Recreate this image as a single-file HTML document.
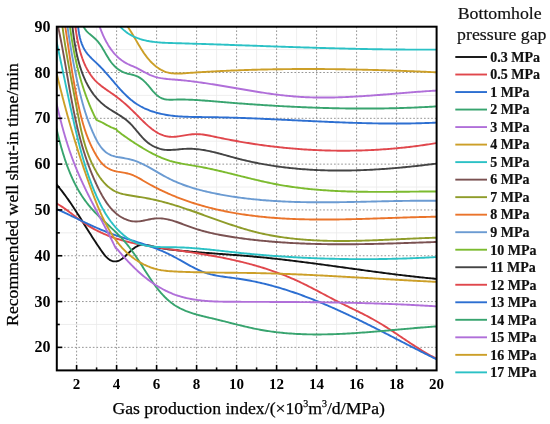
<!DOCTYPE html>
<html><head><meta charset="utf-8"><title>Recommended well shut-in time</title>
<style>html,body{margin:0;padding:0;background:#fff;}body{width:550px;height:424px;position:relative;overflow:hidden;}</style>
</head><body>
<svg width="550" height="424" viewBox="0 0 550 424" style="position:absolute;left:0;top:0">
<defs><clipPath id="pc"><rect x="56.8" y="26.7" width="379.8" height="343.7"/></clipPath></defs>
<g stroke="#eaeaea" stroke-width="0.8"><line x1="96.60" y1="26.7" x2="96.60" y2="370.4"/><line x1="136.60" y1="26.7" x2="136.60" y2="370.4"/><line x1="176.60" y1="26.7" x2="176.60" y2="370.4"/><line x1="216.60" y1="26.7" x2="216.60" y2="370.4"/><line x1="256.60" y1="26.7" x2="256.60" y2="370.4"/><line x1="296.60" y1="26.7" x2="296.60" y2="370.4"/><line x1="336.60" y1="26.7" x2="336.60" y2="370.4"/><line x1="376.60" y1="26.7" x2="376.60" y2="370.4"/><line x1="416.60" y1="26.7" x2="416.60" y2="370.4"/><line x1="56.8" y1="49.61" x2="436.6" y2="49.61"/><line x1="56.8" y1="95.42" x2="436.6" y2="95.42"/><line x1="56.8" y1="141.22" x2="436.6" y2="141.22"/><line x1="56.8" y1="187.03" x2="436.6" y2="187.03"/><line x1="56.8" y1="232.84" x2="436.6" y2="232.84"/><line x1="56.8" y1="278.66" x2="436.6" y2="278.66"/><line x1="56.8" y1="324.47" x2="436.6" y2="324.47"/></g>
<g stroke="#959595" stroke-width="1" stroke-dasharray="1.7 1.9"><line x1="76.60" y1="26.7" x2="76.60" y2="370.4"/><line x1="116.60" y1="26.7" x2="116.60" y2="370.4"/><line x1="156.60" y1="26.7" x2="156.60" y2="370.4"/><line x1="196.60" y1="26.7" x2="196.60" y2="370.4"/><line x1="236.60" y1="26.7" x2="236.60" y2="370.4"/><line x1="276.60" y1="26.7" x2="276.60" y2="370.4"/><line x1="316.60" y1="26.7" x2="316.60" y2="370.4"/><line x1="356.60" y1="26.7" x2="356.60" y2="370.4"/><line x1="396.60" y1="26.7" x2="396.60" y2="370.4"/><line x1="56.8" y1="72.51" x2="436.6" y2="72.51"/><line x1="56.8" y1="118.32" x2="436.6" y2="118.32"/><line x1="56.8" y1="164.13" x2="436.6" y2="164.13"/><line x1="56.8" y1="209.94" x2="436.6" y2="209.94"/><line x1="56.8" y1="255.75" x2="436.6" y2="255.75"/><line x1="56.8" y1="301.56" x2="436.6" y2="301.56"/><line x1="56.8" y1="347.37" x2="436.6" y2="347.37"/></g>
<g clip-path="url(#pc)" fill="none" stroke-width="1.9" stroke-linejoin="round" stroke-linecap="round"><path d="M55.76 183.51 L56.78 184.70 L57.77 185.90 L58.76 187.10 L59.73 188.30 L60.68 189.50 L61.62 190.70 L62.55 191.90 L63.47 193.11 L64.38 194.32 L65.27 195.53 L66.15 196.74 L67.03 197.95 L67.89 199.16 L68.75 200.38 L69.60 201.60 L70.44 202.82 L71.27 204.04 L72.09 205.26 L72.91 206.49 L73.72 207.72 L74.53 208.95 L75.33 210.18 L76.13 211.41 L76.93 212.65 L77.72 213.89 L78.51 215.13 L79.30 216.37 L80.08 217.62 L80.86 218.87 L81.65 220.12 L82.43 221.38 L83.21 222.63 L84.00 223.89 L84.78 225.16 L85.57 226.42 L86.36 227.69 L87.16 228.96 L87.95 230.23 L88.75 231.51 L89.56 232.79 L90.37 234.07 L91.19 235.36 L92.01 236.65 L92.84 237.94 L93.67 239.23 L94.52 240.53 L95.37 241.83 L96.23 243.14 L97.10 244.45 L97.98 245.76 L98.87 247.08 L99.77 248.40 L100.69 249.72 L101.61 251.04 L102.55 252.35 L103.50 253.63 L104.48 254.86 L105.47 256.04 L106.48 257.13 L107.51 258.13 L108.57 259.03 L109.65 259.80 L110.76 260.43 L111.90 260.90 L113.06 261.23 L114.24 261.40 L115.43 261.42 L116.62 261.29 L117.81 261.01 L119.00 260.58 L120.17 260.01 L121.33 259.31 L122.48 258.49 L123.63 257.58 L124.77 256.59 L125.91 255.54 L127.05 254.46 L128.20 253.35 L129.35 252.24 L130.51 251.14 L131.68 250.08 L132.87 249.07 L134.07 248.13 L135.29 247.28 L136.53 246.54 L137.80 245.92 L139.09 245.45 L140.41 245.12 L141.76 244.93 L143.13 244.86 L144.52 244.89 L145.93 245.01 L147.35 245.21 L148.79 245.47 L150.24 245.77 L151.71 246.11 L153.18 246.47 L154.65 246.84 L156.14 247.19 L157.62 247.52 L159.11 247.82 L160.60 248.11 L162.09 248.38 L163.58 248.63 L165.08 248.86 L166.57 249.07 L168.07 249.28 L169.56 249.47 L171.06 249.65 L172.56 249.82 L174.06 249.99 L175.56 250.15 L177.05 250.30 L178.55 250.46 L180.05 250.61 L181.55 250.75 L183.04 250.90 L184.54 251.04 L186.04 251.18 L187.54 251.32 L189.03 251.46 L190.53 251.59 L192.02 251.72 L193.52 251.85 L195.01 251.98 L196.51 252.10 L198.00 252.23 L199.50 252.35 L200.99 252.47 L202.49 252.59 L203.98 252.71 L205.48 252.83 L206.97 252.94 L208.46 253.06 L209.96 253.17 L211.45 253.28 L212.94 253.40 L214.44 253.51 L215.93 253.62 L217.42 253.73 L218.91 253.84 L220.41 253.95 L221.90 254.06 L223.39 254.18 L224.88 254.29 L226.37 254.40 L227.86 254.51 L229.35 254.62 L230.85 254.73 L232.34 254.85 L233.83 254.96 L235.32 255.07 L236.81 255.19 L238.30 255.30 L239.79 255.42 L241.28 255.54 L242.77 255.66 L244.26 255.78 L245.75 255.90 L247.24 256.03 L248.73 256.15 L250.22 256.28 L251.70 256.41 L253.19 256.54 L254.68 256.68 L256.17 256.81 L257.66 256.95 L259.15 257.09 L260.64 257.23 L262.12 257.38 L263.61 257.52 L265.10 257.67 L266.59 257.82 L268.08 257.97 L269.56 258.13 L271.05 258.28 L272.54 258.44 L274.03 258.60 L275.51 258.76 L277.00 258.93 L278.49 259.09 L279.98 259.26 L281.46 259.43 L282.95 259.60 L284.44 259.77 L285.92 259.95 L287.41 260.12 L288.90 260.30 L290.38 260.48 L291.87 260.65 L293.36 260.84 L294.84 261.02 L296.33 261.20 L297.82 261.38 L299.30 261.57 L300.79 261.76 L302.27 261.95 L303.76 262.13 L305.25 262.32 L306.73 262.52 L308.22 262.71 L309.70 262.90 L311.19 263.10 L312.67 263.29 L314.16 263.49 L315.65 263.68 L317.13 263.88 L318.62 264.08 L320.10 264.28 L321.59 264.48 L323.07 264.68 L324.56 264.88 L326.04 265.08 L327.53 265.28 L329.01 265.48 L330.50 265.68 L331.99 265.89 L333.47 266.09 L334.96 266.29 L336.44 266.50 L337.93 266.70 L339.41 266.91 L340.90 267.11 L342.38 267.31 L343.87 267.52 L345.35 267.72 L346.84 267.93 L348.32 268.13 L349.81 268.34 L351.29 268.54 L352.78 268.75 L354.26 268.95 L355.75 269.15 L357.23 269.36 L358.72 269.56 L360.20 269.77 L361.69 269.97 L363.17 270.17 L364.66 270.37 L366.15 270.57 L367.63 270.78 L369.12 270.98 L370.60 271.18 L372.09 271.37 L373.57 271.57 L375.06 271.77 L376.54 271.97 L378.03 272.17 L379.51 272.36 L381.00 272.56 L382.49 272.75 L383.97 272.94 L385.46 273.14 L386.94 273.33 L388.43 273.52 L389.91 273.71 L391.40 273.89 L392.89 274.08 L394.37 274.27 L395.86 274.45 L397.35 274.63 L398.83 274.82 L400.32 275.00 L401.80 275.18 L403.29 275.35 L404.78 275.53 L406.26 275.71 L407.75 275.88 L409.24 276.05 L410.72 276.22 L412.21 276.39 L413.70 276.56 L415.19 276.72 L416.67 276.89 L418.16 277.05 L419.65 277.21 L421.13 277.37 L422.62 277.52 L424.11 277.68 L425.60 277.83 L427.08 277.98 L428.57 278.13 L430.06 278.28 L431.55 278.42 L433.04 278.56 L434.53 278.70 L436.01 278.84 L437.50 278.98" stroke="#111111"/><path d="M56.25 203.29 L57.55 204.01 L58.84 204.76 L60.12 205.54 L61.38 206.34 L62.63 207.16 L63.87 208.00 L65.10 208.86 L66.32 209.73 L67.53 210.61 L68.74 211.51 L69.94 212.42 L71.13 213.33 L72.33 214.24 L73.52 215.16 L74.71 216.08 L75.90 216.99 L77.10 217.90 L78.29 218.81 L79.50 219.70 L80.70 220.59 L81.92 221.46 L83.14 222.32 L84.37 223.16 L85.60 223.99 L86.85 224.79 L88.10 225.59 L89.37 226.36 L90.64 227.12 L91.92 227.86 L93.20 228.59 L94.50 229.30 L95.80 230.00 L97.11 230.68 L98.43 231.34 L99.76 231.98 L101.09 232.62 L102.43 233.23 L103.78 233.83 L105.13 234.41 L106.49 234.98 L107.86 235.54 L109.24 236.07 L110.62 236.59 L112.01 237.10 L113.41 237.59 L114.81 238.07 L116.22 238.54 L117.63 238.99 L119.05 239.42 L120.47 239.85 L121.90 240.26 L123.34 240.66 L124.78 241.05 L126.22 241.42 L127.67 241.79 L129.12 242.14 L130.58 242.49 L132.04 242.82 L133.51 243.15 L134.97 243.46 L136.45 243.77 L137.92 244.07 L139.40 244.36 L140.88 244.65 L142.36 244.92 L143.84 245.19 L145.33 245.46 L146.81 245.71 L148.30 245.97 L149.79 246.21 L151.29 246.46 L152.78 246.69 L154.27 246.93 L155.77 247.16 L157.26 247.38 L158.76 247.61 L160.25 247.83 L161.74 248.05 L163.24 248.26 L164.73 248.48 L166.22 248.69 L167.72 248.91 L169.21 249.12 L170.69 249.33 L172.18 249.55 L173.67 249.76 L175.15 249.97 L176.64 250.19 L178.12 250.40 L179.61 250.62 L181.09 250.83 L182.57 251.05 L184.05 251.26 L185.53 251.48 L187.01 251.70 L188.48 251.92 L189.96 252.14 L191.44 252.37 L192.91 252.59 L194.38 252.82 L195.86 253.05 L197.33 253.28 L198.80 253.52 L200.28 253.75 L201.75 253.99 L203.22 254.23 L204.69 254.48 L206.16 254.72 L207.63 254.97 L209.09 255.23 L210.56 255.49 L212.03 255.75 L213.50 256.01 L214.96 256.28 L216.43 256.55 L217.90 256.82 L219.36 257.10 L220.83 257.39 L222.29 257.68 L223.76 257.97 L225.22 258.26 L226.68 258.57 L228.15 258.87 L229.61 259.18 L231.07 259.50 L232.53 259.82 L233.99 260.14 L235.45 260.47 L236.90 260.81 L238.36 261.15 L239.81 261.49 L241.27 261.84 L242.72 262.20 L244.17 262.56 L245.62 262.92 L247.07 263.30 L248.52 263.67 L249.96 264.06 L251.41 264.45 L252.85 264.84 L254.29 265.24 L255.73 265.65 L257.16 266.06 L258.60 266.48 L260.03 266.91 L261.46 267.34 L262.89 267.78 L264.32 268.23 L265.74 268.68 L267.17 269.14 L268.59 269.60 L270.01 270.07 L271.42 270.55 L272.84 271.04 L274.25 271.53 L275.66 272.03 L277.06 272.54 L278.46 273.05 L279.87 273.57 L281.26 274.10 L282.66 274.64 L284.05 275.18 L285.44 275.74 L286.83 276.30 L288.21 276.86 L289.59 277.44 L290.97 278.02 L292.34 278.62 L293.71 279.22 L295.08 279.82 L296.44 280.44 L297.80 281.07 L299.16 281.70 L300.52 282.34 L301.87 282.99 L303.22 283.64 L304.56 284.30 L305.90 284.97 L307.25 285.64 L308.59 286.32 L309.92 287.00 L311.26 287.69 L312.59 288.38 L313.93 289.07 L315.26 289.76 L316.59 290.46 L317.92 291.16 L319.25 291.86 L320.57 292.56 L321.90 293.27 L323.23 293.97 L324.56 294.67 L325.89 295.37 L327.21 296.08 L328.54 296.77 L329.87 297.47 L331.20 298.17 L332.54 298.86 L333.87 299.55 L335.20 300.23 L336.54 300.91 L337.88 301.59 L339.21 302.26 L340.55 302.92 L341.90 303.59 L343.24 304.25 L344.58 304.91 L345.92 305.56 L347.27 306.22 L348.61 306.87 L349.95 307.53 L351.30 308.18 L352.64 308.83 L353.98 309.49 L355.32 310.14 L356.66 310.80 L358.00 311.46 L359.34 312.13 L360.67 312.79 L362.00 313.46 L363.33 314.13 L364.66 314.81 L365.99 315.50 L367.31 316.19 L368.63 316.88 L369.94 317.58 L371.25 318.29 L372.56 319.01 L373.87 319.73 L375.17 320.46 L376.46 321.20 L377.75 321.95 L379.04 322.71 L380.32 323.48 L381.60 324.25 L382.87 325.04 L384.14 325.82 L385.41 326.62 L386.68 327.42 L387.94 328.23 L389.20 329.04 L390.45 329.86 L391.71 330.68 L392.96 331.51 L394.21 332.34 L395.46 333.17 L396.71 334.00 L397.96 334.84 L399.21 335.67 L400.46 336.51 L401.70 337.35 L402.95 338.19 L404.20 339.03 L405.45 339.87 L406.69 340.70 L407.94 341.54 L409.19 342.37 L410.45 343.20 L411.70 344.02 L412.96 344.85 L414.22 345.66 L415.48 346.48 L416.74 347.29 L418.01 348.09 L419.28 348.89 L420.55 349.68 L421.83 350.46 L423.11 351.24 L424.39 352.01 L425.68 352.77 L426.97 353.52 L428.27 354.27 L429.57 355.00 L430.88 355.72 L432.20 356.43 L433.52 357.14 L434.84 357.83 L436.17 358.50 L437.51 359.17" stroke="#e0474c"/><path d="M55.93 208.68 L57.29 209.30 L58.65 209.92 L60.00 210.54 L61.36 211.17 L62.71 211.80 L64.06 212.44 L65.41 213.08 L66.76 213.72 L68.11 214.36 L69.46 215.01 L70.80 215.66 L72.15 216.31 L73.50 216.95 L74.85 217.61 L76.20 218.26 L77.54 218.91 L78.89 219.55 L80.24 220.20 L81.59 220.85 L82.94 221.49 L84.29 222.14 L85.65 222.78 L87.00 223.41 L88.36 224.04 L89.72 224.67 L91.08 225.30 L92.44 225.92 L93.80 226.53 L95.17 227.14 L96.53 227.75 L97.90 228.34 L99.28 228.93 L100.65 229.52 L102.03 230.09 L103.41 230.66 L104.80 231.22 L106.18 231.77 L107.58 232.31 L108.97 232.85 L110.37 233.37 L111.77 233.88 L113.18 234.38 L114.59 234.88 L116.00 235.36 L117.42 235.84 L118.84 236.31 L120.26 236.77 L121.68 237.22 L123.11 237.67 L124.53 238.12 L125.96 238.57 L127.39 239.01 L128.81 239.45 L130.24 239.89 L131.67 240.33 L133.10 240.77 L134.52 241.21 L135.94 241.65 L137.37 242.10 L138.79 242.55 L140.21 243.01 L141.62 243.47 L143.03 243.94 L144.45 244.41 L145.85 244.89 L147.26 245.37 L148.66 245.86 L150.06 246.36 L151.46 246.87 L152.85 247.38 L154.24 247.90 L155.62 248.43 L157.00 248.97 L158.38 249.53 L159.75 250.09 L161.12 250.66 L162.49 251.24 L163.85 251.84 L165.20 252.44 L166.55 253.06 L167.90 253.69 L169.24 254.34 L170.58 255.00 L171.91 255.67 L173.23 256.36 L174.55 257.06 L175.87 257.77 L177.18 258.49 L178.49 259.21 L179.79 259.95 L181.10 260.68 L182.40 261.42 L183.71 262.16 L185.01 262.90 L186.32 263.63 L187.62 264.36 L188.93 265.09 L190.24 265.80 L191.56 266.51 L192.87 267.20 L194.20 267.88 L195.53 268.54 L196.86 269.18 L198.20 269.81 L199.55 270.42 L200.91 271.00 L202.27 271.56 L203.65 272.09 L205.03 272.59 L206.42 273.07 L207.83 273.51 L209.25 273.92 L210.67 274.31 L212.11 274.66 L213.55 274.99 L215.01 275.30 L216.47 275.58 L217.94 275.85 L219.41 276.10 L220.89 276.33 L222.38 276.55 L223.87 276.77 L225.36 276.97 L226.86 277.17 L228.36 277.36 L229.85 277.55 L231.35 277.74 L232.85 277.93 L234.35 278.12 L235.85 278.32 L237.35 278.53 L238.84 278.75 L240.34 278.98 L241.83 279.21 L243.31 279.45 L244.80 279.70 L246.28 279.96 L247.76 280.23 L249.24 280.50 L250.72 280.79 L252.19 281.08 L253.67 281.37 L255.14 281.68 L256.61 281.99 L258.07 282.31 L259.54 282.64 L261.00 282.98 L262.46 283.32 L263.92 283.67 L265.37 284.03 L266.82 284.39 L268.27 284.76 L269.72 285.14 L271.17 285.52 L272.61 285.91 L274.06 286.31 L275.50 286.71 L276.94 287.12 L278.37 287.53 L279.80 287.96 L281.24 288.38 L282.67 288.82 L284.09 289.26 L285.52 289.70 L286.94 290.16 L288.36 290.61 L289.78 291.08 L291.20 291.54 L292.62 292.02 L294.03 292.50 L295.44 292.98 L296.85 293.47 L298.26 293.97 L299.66 294.47 L301.07 294.98 L302.47 295.49 L303.87 296.00 L305.27 296.52 L306.67 297.05 L308.06 297.58 L309.46 298.12 L310.85 298.65 L312.24 299.20 L313.63 299.75 L315.02 300.30 L316.40 300.86 L317.79 301.42 L319.17 301.99 L320.55 302.56 L321.93 303.13 L323.31 303.71 L324.69 304.29 L326.06 304.87 L327.44 305.46 L328.81 306.06 L330.18 306.65 L331.55 307.25 L332.92 307.86 L334.29 308.46 L335.65 309.08 L337.02 309.69 L338.38 310.31 L339.74 310.93 L341.11 311.55 L342.47 312.17 L343.83 312.80 L345.18 313.43 L346.54 314.07 L347.90 314.71 L349.25 315.35 L350.60 315.99 L351.96 316.63 L353.31 317.28 L354.66 317.93 L356.01 318.58 L357.36 319.23 L358.71 319.89 L360.05 320.55 L361.40 321.21 L362.75 321.87 L364.09 322.53 L365.44 323.20 L366.78 323.87 L368.12 324.53 L369.46 325.20 L370.80 325.88 L372.14 326.55 L373.48 327.22 L374.82 327.90 L376.16 328.58 L377.50 329.25 L378.84 329.93 L380.17 330.61 L381.51 331.29 L382.85 331.98 L384.18 332.66 L385.52 333.34 L386.85 334.03 L388.18 334.71 L389.52 335.39 L390.85 336.08 L392.18 336.76 L393.52 337.45 L394.85 338.14 L396.18 338.82 L397.51 339.51 L398.85 340.19 L400.18 340.88 L401.51 341.57 L402.84 342.25 L404.17 342.94 L405.50 343.62 L406.83 344.30 L408.16 344.99 L409.49 345.67 L410.82 346.35 L412.15 347.04 L413.48 347.72 L414.81 348.40 L416.14 349.08 L417.48 349.75 L418.81 350.43 L420.14 351.11 L421.47 351.78 L422.80 352.45 L424.13 353.13 L425.46 353.80 L426.79 354.46 L428.13 355.13 L429.46 355.80 L430.79 356.46 L432.12 357.12 L433.46 357.78 L434.79 358.44 L436.12 359.10 L437.46 359.75" stroke="#2d6fd1"/><path d="M56.56 128.85 L56.90 130.29 L57.24 131.74 L57.59 133.18 L57.94 134.63 L58.29 136.07 L58.65 137.52 L59.02 138.97 L59.39 140.42 L59.77 141.87 L60.16 143.32 L60.55 144.77 L60.95 146.22 L61.35 147.67 L61.77 149.12 L62.19 150.57 L62.62 152.01 L63.05 153.45 L63.50 154.89 L63.95 156.33 L64.41 157.77 L64.88 159.20 L65.36 160.63 L65.85 162.05 L66.35 163.48 L66.86 164.89 L67.38 166.31 L67.91 167.72 L68.45 169.12 L69.00 170.52 L69.56 171.91 L70.13 173.30 L70.71 174.68 L71.31 176.05 L71.92 177.42 L72.54 178.78 L73.17 180.14 L73.81 181.48 L74.47 182.82 L75.14 184.15 L75.83 185.48 L76.52 186.79 L77.24 188.10 L77.96 189.40 L78.70 190.68 L79.45 191.96 L80.22 193.23 L81.01 194.49 L81.80 195.74 L82.62 196.97 L83.45 198.20 L84.29 199.41 L85.16 200.62 L86.03 201.81 L86.93 202.99 L87.84 204.16 L88.77 205.31 L89.71 206.45 L90.68 207.58 L91.66 208.70 L92.65 209.81 L93.66 210.90 L94.68 211.98 L95.72 213.06 L96.77 214.12 L97.83 215.18 L98.89 216.23 L99.97 217.28 L101.05 218.32 L102.14 219.35 L103.24 220.38 L104.34 221.41 L105.44 222.44 L106.55 223.46 L107.65 224.49 L108.76 225.51 L109.86 226.54 L110.96 227.57 L112.06 228.60 L113.16 229.63 L114.25 230.67 L115.33 231.71 L116.41 232.76 L117.48 233.82 L118.54 234.88 L119.59 235.96 L120.62 237.04 L121.65 238.13 L122.66 239.23 L123.66 240.35 L124.64 241.47 L125.60 242.61 L126.56 243.76 L127.49 244.92 L128.42 246.09 L129.33 247.28 L130.23 248.47 L131.12 249.67 L132.01 250.88 L132.88 252.09 L133.74 253.32 L134.59 254.55 L135.44 255.78 L136.28 257.03 L137.12 258.28 L137.95 259.53 L138.77 260.79 L139.59 262.05 L140.41 263.32 L141.23 264.59 L142.04 265.86 L142.85 267.13 L143.67 268.41 L144.48 269.68 L145.29 270.96 L146.11 272.23 L146.93 273.50 L147.75 274.77 L148.57 276.04 L149.40 277.30 L150.24 278.55 L151.08 279.79 L151.92 281.03 L152.78 282.26 L153.64 283.48 L154.51 284.69 L155.39 285.88 L156.27 287.07 L157.17 288.24 L158.08 289.40 L159.01 290.54 L159.94 291.66 L160.89 292.77 L161.85 293.86 L162.82 294.93 L163.82 295.98 L164.82 297.01 L165.85 298.02 L166.89 299.01 L167.95 299.97 L169.02 300.90 L170.12 301.82 L171.24 302.70 L172.37 303.56 L173.53 304.39 L174.71 305.19 L175.92 305.96 L177.14 306.70 L178.39 307.41 L179.66 308.09 L180.95 308.74 L182.27 309.37 L183.60 309.97 L184.95 310.54 L186.31 311.10 L187.70 311.63 L189.09 312.14 L190.51 312.63 L191.93 313.10 L193.37 313.56 L194.82 314.00 L196.28 314.43 L197.74 314.84 L199.22 315.24 L200.71 315.63 L202.20 316.02 L203.69 316.39 L205.20 316.76 L206.70 317.12 L208.21 317.48 L209.72 317.83 L211.23 318.19 L212.74 318.54 L214.25 318.90 L215.75 319.25 L217.26 319.61 L218.76 319.97 L220.25 320.34 L221.75 320.71 L223.24 321.08 L224.73 321.45 L226.21 321.83 L227.70 322.20 L229.18 322.58 L230.65 322.96 L232.13 323.33 L233.60 323.71 L235.08 324.08 L236.55 324.45 L238.02 324.82 L239.49 325.18 L240.95 325.54 L242.42 325.90 L243.89 326.25 L245.35 326.60 L246.82 326.94 L248.28 327.28 L249.75 327.61 L251.21 327.93 L252.68 328.25 L254.14 328.56 L255.61 328.86 L257.08 329.15 L258.54 329.43 L260.01 329.70 L261.48 329.97 L262.95 330.22 L264.42 330.47 L265.90 330.71 L267.37 330.94 L268.84 331.16 L270.32 331.38 L271.79 331.58 L273.27 331.78 L274.75 331.97 L276.22 332.15 L277.70 332.32 L279.18 332.49 L280.66 332.65 L282.14 332.80 L283.62 332.94 L285.10 333.08 L286.59 333.21 L288.07 333.33 L289.55 333.45 L291.04 333.56 L292.52 333.66 L294.01 333.75 L295.49 333.84 L296.98 333.93 L298.47 334.00 L299.95 334.07 L301.44 334.13 L302.93 334.19 L304.42 334.24 L305.91 334.29 L307.40 334.33 L308.89 334.36 L310.38 334.39 L311.87 334.41 L313.36 334.43 L314.85 334.44 L316.35 334.44 L317.84 334.45 L319.33 334.44 L320.83 334.43 L322.32 334.42 L323.82 334.40 L325.31 334.38 L326.81 334.35 L328.30 334.32 L329.80 334.28 L331.29 334.24 L332.79 334.20 L334.28 334.15 L335.78 334.09 L337.28 334.04 L338.77 333.98 L340.27 333.91 L341.77 333.84 L343.27 333.77 L344.76 333.70 L346.26 333.62 L347.76 333.54 L349.26 333.45 L350.76 333.36 L352.25 333.27 L353.75 333.18 L355.25 333.08 L356.75 332.98 L358.25 332.88 L359.75 332.78 L361.25 332.67 L362.75 332.56 L364.24 332.45 L365.74 332.34 L367.24 332.22 L368.74 332.11 L370.24 331.99 L371.74 331.87 L373.24 331.75 L374.73 331.62 L376.23 331.50 L377.73 331.37 L379.23 331.25 L380.73 331.12 L382.23 330.99 L383.72 330.86 L385.22 330.73 L386.72 330.59 L388.21 330.46 L389.71 330.33 L391.21 330.19 L392.71 330.06 L394.20 329.93 L395.70 329.79 L397.19 329.66 L398.69 329.52 L400.18 329.39 L401.68 329.25 L403.17 329.12 L404.67 328.99 L406.16 328.85 L407.66 328.72 L409.15 328.59 L410.64 328.46 L412.13 328.33 L413.63 328.20 L415.12 328.07 L416.61 327.94 L418.10 327.82 L419.59 327.70 L421.08 327.57 L422.57 327.45 L424.06 327.33 L425.55 327.21 L427.04 327.10 L428.52 326.99 L430.01 326.87 L431.50 326.76 L432.98 326.66 L434.47 326.55 L435.95 326.45 L437.44 326.35" stroke="#38a46f"/><path d="M56.13 101.75 L56.47 103.21 L56.80 104.67 L57.14 106.13 L57.48 107.59 L57.83 109.05 L58.17 110.50 L58.52 111.96 L58.88 113.41 L59.23 114.86 L59.59 116.31 L59.96 117.76 L60.33 119.21 L60.70 120.66 L61.07 122.10 L61.45 123.55 L61.83 124.99 L62.22 126.43 L62.61 127.86 L63.01 129.30 L63.41 130.74 L63.81 132.17 L64.22 133.60 L64.64 135.03 L65.06 136.45 L65.48 137.88 L65.91 139.30 L66.35 140.72 L66.79 142.14 L67.23 143.56 L67.68 144.97 L68.14 146.38 L68.60 147.79 L69.07 149.20 L69.54 150.60 L70.02 152.01 L70.51 153.41 L71.00 154.80 L71.50 156.20 L72.01 157.59 L72.52 158.98 L73.04 160.36 L73.56 161.75 L74.09 163.13 L74.63 164.51 L75.18 165.88 L75.73 167.25 L76.29 168.62 L76.86 169.99 L77.43 171.35 L78.01 172.72 L78.59 174.08 L79.18 175.43 L79.78 176.79 L80.38 178.14 L80.98 179.49 L81.60 180.84 L82.21 182.18 L82.84 183.53 L83.46 184.87 L84.10 186.21 L84.73 187.55 L85.37 188.88 L86.02 190.22 L86.67 191.55 L87.32 192.88 L87.98 194.21 L88.64 195.54 L89.30 196.87 L89.97 198.19 L90.64 199.52 L91.32 200.84 L92.00 202.16 L92.68 203.48 L93.36 204.80 L94.04 206.12 L94.73 207.44 L95.42 208.76 L96.11 210.08 L96.80 211.39 L97.49 212.71 L98.19 214.02 L98.88 215.34 L99.58 216.65 L100.27 217.97 L100.97 219.29 L101.67 220.60 L102.36 221.92 L103.05 223.23 L103.75 224.55 L104.44 225.87 L105.13 227.19 L105.82 228.50 L106.51 229.82 L107.20 231.14 L107.88 232.47 L108.56 233.79 L109.24 235.11 L109.92 236.44 L110.59 237.76 L111.26 239.09 L111.93 240.42 L112.59 241.75 L113.25 243.09 L113.90 244.42 L114.55 245.76 L115.20 247.10 L115.84 248.44 L117.18 249.07 L118.14 250.22 L119.10 251.37 L120.08 252.52 L121.06 253.66 L122.05 254.80 L123.05 255.94 L124.06 257.07 L125.08 258.20 L126.10 259.32 L127.13 260.44 L128.17 261.55 L129.22 262.66 L130.28 263.75 L131.35 264.84 L132.42 265.93 L133.50 267.00 L134.59 268.06 L135.69 269.11 L136.80 270.16 L137.92 271.19 L139.04 272.21 L140.18 273.21 L141.32 274.21 L142.47 275.19 L143.63 276.15 L144.80 277.11 L145.98 278.04 L147.16 278.97 L148.36 279.88 L149.56 280.77 L150.77 281.65 L151.99 282.51 L153.22 283.35 L154.45 284.18 L155.70 284.99 L156.95 285.78 L158.21 286.55 L159.48 287.31 L160.76 288.04 L162.05 288.76 L163.34 289.46 L164.64 290.13 L165.95 290.79 L167.27 291.43 L168.60 292.05 L169.93 292.64 L171.27 293.21 L172.62 293.77 L173.98 294.29 L175.34 294.80 L176.72 295.28 L178.10 295.75 L179.49 296.18 L180.88 296.60 L182.28 296.99 L183.69 297.37 L185.11 297.72 L186.53 298.06 L187.96 298.37 L189.39 298.67 L190.83 298.95 L192.27 299.21 L193.72 299.45 L195.18 299.68 L196.64 299.89 L198.11 300.09 L199.57 300.28 L201.05 300.45 L202.53 300.60 L204.01 300.74 L205.49 300.88 L206.98 301.00 L208.47 301.10 L209.97 301.20 L211.47 301.29 L212.97 301.37 L214.47 301.44 L215.98 301.50 L217.49 301.55 L218.99 301.60 L220.51 301.64 L222.02 301.67 L223.53 301.70 L225.05 301.73 L226.56 301.74 L228.08 301.76 L229.59 301.77 L231.11 301.78 L232.62 301.79 L234.14 301.80 L235.66 301.80 L237.17 301.81 L238.69 301.82 L240.20 301.82 L241.71 301.83 L243.22 301.83 L244.73 301.84 L246.25 301.84 L247.76 301.85 L249.26 301.85 L250.77 301.86 L252.28 301.86 L253.79 301.87 L255.30 301.87 L256.80 301.88 L258.31 301.88 L259.81 301.89 L261.32 301.89 L262.82 301.90 L264.32 301.90 L265.83 301.91 L267.33 301.91 L268.83 301.92 L270.33 301.93 L271.83 301.93 L273.33 301.94 L274.83 301.94 L276.33 301.95 L277.83 301.96 L279.33 301.97 L280.82 301.97 L282.32 301.98 L283.82 301.99 L285.32 302.00 L286.81 302.01 L288.31 302.01 L289.80 302.02 L291.30 302.03 L292.79 302.04 L294.29 302.05 L295.78 302.06 L297.27 302.07 L298.77 302.08 L300.26 302.10 L301.75 302.11 L303.24 302.12 L304.73 302.13 L306.23 302.15 L307.72 302.16 L309.21 302.17 L310.70 302.19 L312.19 302.20 L313.68 302.22 L315.17 302.24 L316.66 302.25 L318.15 302.27 L319.64 302.29 L321.13 302.31 L322.62 302.32 L324.11 302.34 L325.59 302.36 L327.08 302.39 L328.57 302.41 L330.06 302.43 L331.55 302.45 L333.04 302.47 L334.52 302.50 L336.01 302.52 L337.50 302.55 L338.99 302.57 L340.48 302.60 L341.96 302.63 L343.45 302.66 L344.94 302.69 L346.43 302.72 L347.91 302.75 L349.40 302.78 L350.89 302.81 L352.38 302.84 L353.86 302.88 L355.35 302.91 L356.84 302.95 L358.33 302.98 L359.82 303.02 L361.30 303.06 L362.79 303.10 L364.28 303.14 L365.77 303.18 L367.26 303.22 L368.75 303.26 L370.24 303.30 L371.72 303.35 L373.21 303.40 L374.70 303.44 L376.19 303.49 L377.68 303.54 L379.17 303.59 L380.66 303.64 L382.15 303.69 L383.64 303.74 L385.13 303.80 L386.62 303.85 L388.12 303.91 L389.61 303.97 L391.10 304.02 L392.59 304.08 L394.08 304.14 L395.58 304.21 L397.07 304.27 L398.56 304.33 L400.06 304.40 L401.55 304.46 L403.05 304.53 L404.54 304.60 L406.04 304.67 L407.53 304.74 L409.03 304.82 L410.52 304.89 L412.02 304.97 L413.52 305.04 L415.02 305.12 L416.51 305.20 L418.01 305.28 L419.51 305.36 L421.01 305.45 L422.51 305.53 L424.01 305.62 L425.51 305.71 L427.02 305.79 L428.52 305.88 L430.02 305.98 L431.52 306.07 L433.03 306.16 L434.53 306.26 L436.04 306.36 L437.54 306.46" stroke="#b06fd9"/><path d="M56.00 70.71 L56.36 72.20 L56.72 73.69 L57.08 75.18 L57.44 76.66 L57.80 78.14 L58.16 79.62 L58.52 81.10 L58.89 82.57 L59.25 84.04 L59.62 85.51 L59.99 86.98 L60.36 88.44 L60.73 89.90 L61.10 91.36 L61.47 92.82 L61.84 94.28 L62.22 95.73 L62.60 97.19 L62.98 98.64 L63.36 100.09 L63.74 101.53 L64.12 102.98 L64.50 104.42 L64.89 105.87 L65.28 107.31 L65.67 108.75 L66.06 110.18 L66.45 111.62 L66.84 113.05 L67.24 114.49 L67.64 115.92 L68.03 117.35 L68.44 118.78 L68.84 120.21 L69.24 121.63 L69.65 123.06 L70.06 124.48 L70.47 125.91 L70.88 127.33 L71.29 128.75 L71.71 130.17 L72.13 131.59 L72.55 133.01 L72.97 134.43 L73.39 135.84 L73.82 137.26 L74.25 138.68 L74.68 140.09 L75.11 141.51 L75.55 142.92 L75.98 144.33 L76.42 145.75 L76.87 147.16 L77.31 148.57 L77.76 149.98 L78.20 151.39 L78.66 152.81 L79.11 154.22 L79.57 155.63 L80.02 157.04 L80.48 158.45 L80.95 159.86 L81.41 161.27 L81.88 162.68 L82.35 164.09 L82.83 165.50 L83.30 166.91 L83.78 168.32 L84.27 169.73 L84.75 171.14 L85.24 172.56 L85.73 173.97 L86.22 175.38 L86.72 176.79 L87.22 178.21 L87.72 179.62 L88.22 181.04 L88.73 182.45 L89.24 183.87 L89.75 185.28 L90.27 186.70 L90.79 188.12 L91.31 189.54 L91.84 190.96 L92.36 192.38 L92.90 193.80 L93.43 195.22 L93.97 196.64 L94.51 198.06 L95.06 199.48 L95.62 200.90 L96.17 202.32 L96.74 203.73 L97.31 205.14 L97.89 206.55 L98.47 207.96 L99.06 209.36 L99.66 210.76 L100.27 212.15 L100.88 213.54 L101.50 214.92 L102.14 216.30 L102.78 217.67 L103.43 219.03 L104.09 220.39 L104.76 221.73 L105.44 223.07 L106.13 224.41 L106.84 225.73 L107.55 227.04 L108.28 228.35 L109.02 229.64 L109.77 230.92 L110.54 232.19 L111.32 233.45 L112.11 234.70 L112.92 235.94 L113.74 237.16 L114.58 238.37 L115.43 239.57 L116.29 240.75 L117.18 241.92 L118.08 243.07 L118.99 244.21 L119.93 245.33 L120.88 246.44 L121.85 247.53 L122.83 248.60 L123.84 249.66 L124.86 250.69 L125.90 251.71 L126.96 252.72 L128.04 253.70 L129.15 254.66 L130.27 255.60 L131.41 256.52 L132.58 257.43 L133.76 258.31 L134.97 259.17 L136.20 260.00 L137.45 260.82 L138.73 261.61 L140.02 262.38 L141.34 263.12 L142.68 263.84 L144.04 264.53 L145.42 265.19 L146.81 265.82 L148.21 266.42 L149.63 266.99 L151.06 267.52 L152.50 268.02 L153.94 268.48 L155.40 268.90 L156.85 269.29 L158.31 269.63 L159.78 269.93 L161.24 270.20 L162.71 270.43 L164.18 270.64 L165.66 270.81 L167.13 270.97 L168.61 271.10 L170.09 271.21 L171.57 271.31 L173.05 271.40 L174.53 271.48 L176.01 271.55 L177.49 271.61 L178.98 271.68 L180.46 271.74 L181.95 271.80 L183.43 271.86 L184.92 271.91 L186.41 271.96 L187.89 272.01 L189.38 272.06 L190.87 272.10 L192.36 272.14 L193.85 272.18 L195.34 272.22 L196.83 272.26 L198.32 272.29 L199.81 272.32 L201.30 272.35 L202.79 272.38 L204.29 272.41 L205.78 272.44 L207.27 272.46 L208.76 272.49 L210.26 272.51 L211.75 272.53 L213.25 272.55 L214.74 272.57 L216.24 272.59 L217.73 272.61 L219.23 272.62 L220.72 272.64 L222.22 272.66 L223.71 272.67 L225.21 272.69 L226.71 272.71 L228.20 272.72 L229.70 272.74 L231.20 272.75 L232.69 272.77 L234.19 272.78 L235.69 272.80 L237.19 272.81 L238.68 272.83 L240.18 272.85 L241.68 272.87 L243.18 272.88 L244.67 272.90 L246.17 272.92 L247.67 272.95 L249.17 272.97 L250.66 272.99 L252.16 273.02 L253.66 273.04 L255.16 273.07 L256.65 273.10 L258.15 273.13 L259.65 273.16 L261.14 273.19 L262.64 273.23 L264.14 273.26 L265.63 273.30 L267.13 273.34 L268.63 273.38 L270.12 273.42 L271.62 273.46 L273.12 273.51 L274.61 273.55 L276.11 273.60 L277.61 273.64 L279.10 273.69 L280.60 273.74 L282.09 273.80 L283.59 273.85 L285.09 273.90 L286.58 273.96 L288.08 274.01 L289.57 274.07 L291.07 274.13 L292.56 274.19 L294.06 274.25 L295.55 274.31 L297.05 274.37 L298.55 274.43 L300.04 274.50 L301.54 274.56 L303.03 274.63 L304.53 274.69 L306.02 274.76 L307.52 274.83 L309.01 274.90 L310.50 274.97 L312.00 275.04 L313.49 275.11 L314.99 275.18 L316.48 275.26 L317.98 275.33 L319.47 275.41 L320.97 275.48 L322.46 275.56 L323.96 275.63 L325.45 275.71 L326.94 275.79 L328.44 275.87 L329.93 275.95 L331.43 276.03 L332.92 276.11 L334.42 276.19 L335.91 276.27 L337.40 276.35 L338.90 276.43 L340.39 276.52 L341.89 276.60 L343.38 276.68 L344.87 276.77 L346.37 276.85 L347.86 276.93 L349.36 277.02 L350.85 277.10 L352.34 277.19 L353.84 277.27 L355.33 277.36 L356.83 277.45 L358.32 277.53 L359.81 277.62 L361.31 277.71 L362.80 277.79 L364.29 277.88 L365.79 277.97 L367.28 278.05 L368.78 278.14 L370.27 278.23 L371.76 278.31 L373.26 278.40 L374.75 278.49 L376.25 278.58 L377.74 278.66 L379.23 278.75 L380.73 278.84 L382.22 278.92 L383.71 279.01 L385.21 279.10 L386.70 279.18 L388.20 279.27 L389.69 279.36 L391.18 279.44 L392.68 279.53 L394.17 279.61 L395.66 279.70 L397.16 279.78 L398.65 279.87 L400.15 279.95 L401.64 280.04 L403.13 280.12 L404.63 280.20 L406.12 280.29 L407.62 280.37 L409.11 280.45 L410.61 280.53 L412.10 280.61 L413.59 280.69 L415.09 280.77 L416.58 280.85 L418.08 280.93 L419.57 281.01 L421.06 281.09 L422.56 281.16 L424.05 281.24 L425.55 281.32 L427.04 281.39 L428.54 281.46 L430.03 281.54 L431.53 281.61 L433.02 281.68 L434.52 281.75 L436.01 281.83 L437.51 281.89" stroke="#cc9f28"/><path d="M55.30 36.13 L55.62 37.56 L55.94 38.99 L56.26 40.42 L56.58 41.86 L56.89 43.30 L57.21 44.74 L57.53 46.19 L57.84 47.64 L58.15 49.08 L58.47 50.54 L58.78 51.99 L59.09 53.45 L59.41 54.90 L59.72 56.36 L60.03 57.82 L60.34 59.29 L60.65 60.75 L60.96 62.22 L61.27 63.68 L61.58 65.15 L61.89 66.62 L62.20 68.09 L62.51 69.57 L62.82 71.04 L63.13 72.51 L63.44 73.99 L63.76 75.46 L64.07 76.94 L64.38 78.42 L64.69 79.89 L65.00 81.37 L65.31 82.85 L65.62 84.33 L65.93 85.80 L66.24 87.28 L66.56 88.76 L66.87 90.24 L67.18 91.72 L67.50 93.20 L67.81 94.67 L68.13 96.15 L68.44 97.63 L68.76 99.10 L69.07 100.58 L69.39 102.05 L69.71 103.52 L70.03 105.00 L70.35 106.47 L70.67 107.94 L70.99 109.41 L71.31 110.87 L71.64 112.34 L71.96 113.81 L72.29 115.27 L72.61 116.73 L72.94 118.19 L73.27 119.65 L73.60 121.10 L73.93 122.56 L74.26 124.01 L74.60 125.46 L74.93 126.91 L75.27 128.35 L75.60 129.80 L75.94 131.24 L76.29 132.68 L76.63 134.11 L76.98 135.55 L77.32 136.98 L77.67 138.42 L78.03 139.85 L78.39 141.27 L78.75 142.70 L79.11 144.13 L79.48 145.55 L79.85 146.97 L80.22 148.40 L80.60 149.82 L80.99 151.24 L81.37 152.66 L81.77 154.07 L82.17 155.49 L82.57 156.91 L82.98 158.32 L83.39 159.74 L83.81 161.15 L84.23 162.57 L84.66 163.98 L85.10 165.39 L85.54 166.81 L85.99 168.22 L86.45 169.63 L86.91 171.05 L87.39 172.46 L87.86 173.87 L88.35 175.29 L88.84 176.70 L89.34 178.11 L89.85 179.53 L90.37 180.94 L90.89 182.36 L91.43 183.78 L91.97 185.19 L92.52 186.61 L93.08 188.03 L93.65 189.45 L94.23 190.87 L94.82 192.28 L95.42 193.70 L96.04 195.11 L96.66 196.51 L97.29 197.92 L97.94 199.32 L98.60 200.71 L99.27 202.10 L99.95 203.48 L100.65 204.85 L101.36 206.21 L102.08 207.57 L102.82 208.91 L103.57 210.25 L104.33 211.57 L105.12 212.89 L105.91 214.19 L106.72 215.48 L107.55 216.75 L108.40 218.01 L109.26 219.26 L110.14 220.49 L111.03 221.71 L111.95 222.91 L112.88 224.09 L113.83 225.25 L114.80 226.39 L115.78 227.52 L116.79 228.62 L117.81 229.70 L118.86 230.76 L119.92 231.80 L121.00 232.81 L122.10 233.79 L123.21 234.74 L124.35 235.66 L125.50 236.55 L126.67 237.41 L127.86 238.24 L129.07 239.03 L130.29 239.79 L131.53 240.51 L132.79 241.18 L134.07 241.82 L135.36 242.42 L136.67 242.98 L138.00 243.49 L139.34 243.95 L140.70 244.38 L142.08 244.77 L143.47 245.12 L144.87 245.43 L146.29 245.71 L147.71 245.96 L149.15 246.18 L150.60 246.37 L152.06 246.53 L153.53 246.67 L155.01 246.79 L156.50 246.89 L157.99 246.98 L159.49 247.04 L160.99 247.10 L162.50 247.14 L164.02 247.17 L165.53 247.20 L167.05 247.22 L168.58 247.23 L170.10 247.24 L171.62 247.26 L173.15 247.27 L174.67 247.30 L176.19 247.32 L177.71 247.36 L179.23 247.40 L180.74 247.45 L182.26 247.51 L183.77 247.57 L185.27 247.65 L186.78 247.72 L188.29 247.81 L189.79 247.90 L191.29 248.00 L192.79 248.10 L194.29 248.21 L195.78 248.33 L197.28 248.44 L198.77 248.57 L200.26 248.70 L201.75 248.83 L203.24 248.97 L204.73 249.11 L206.22 249.25 L207.70 249.40 L209.19 249.55 L210.67 249.70 L212.16 249.86 L213.64 250.01 L215.12 250.17 L216.61 250.33 L218.09 250.50 L219.57 250.66 L221.05 250.82 L222.53 250.99 L224.01 251.15 L225.49 251.32 L226.97 251.49 L228.45 251.65 L229.93 251.82 L231.41 251.98 L232.89 252.14 L234.37 252.31 L235.85 252.47 L237.33 252.62 L238.81 252.78 L240.29 252.93 L241.78 253.09 L243.26 253.24 L244.74 253.38 L246.23 253.53 L247.71 253.68 L249.19 253.82 L250.68 253.96 L252.16 254.10 L253.65 254.24 L255.14 254.37 L256.62 254.50 L258.11 254.63 L259.59 254.76 L261.08 254.89 L262.57 255.02 L264.06 255.14 L265.54 255.26 L267.03 255.38 L268.52 255.50 L270.01 255.61 L271.50 255.73 L272.99 255.84 L274.48 255.95 L275.97 256.06 L277.46 256.16 L278.95 256.27 L280.44 256.37 L281.93 256.47 L283.42 256.57 L284.92 256.67 L286.41 256.76 L287.90 256.86 L289.39 256.95 L290.89 257.04 L292.38 257.12 L293.87 257.21 L295.37 257.29 L296.86 257.38 L298.35 257.46 L299.85 257.53 L301.34 257.61 L302.84 257.68 L304.33 257.76 L305.83 257.83 L307.32 257.90 L308.82 257.96 L310.31 258.03 L311.81 258.09 L313.30 258.15 L314.80 258.21 L316.29 258.27 L317.79 258.33 L319.29 258.38 L320.78 258.43 L322.28 258.48 L323.78 258.53 L325.27 258.58 L326.77 258.62 L328.27 258.67 L329.76 258.71 L331.26 258.75 L332.76 258.78 L334.25 258.82 L335.75 258.85 L337.25 258.89 L338.75 258.92 L340.24 258.95 L341.74 258.97 L343.24 259.00 L344.74 259.02 L346.24 259.04 L347.73 259.06 L349.23 259.08 L350.73 259.09 L352.23 259.11 L353.72 259.12 L355.22 259.13 L356.72 259.14 L358.22 259.15 L359.72 259.15 L361.21 259.16 L362.71 259.16 L364.21 259.16 L365.71 259.16 L367.21 259.15 L368.70 259.15 L370.20 259.14 L371.70 259.13 L373.20 259.12 L374.69 259.11 L376.19 259.09 L377.69 259.08 L379.19 259.06 L380.68 259.04 L382.18 259.02 L383.68 258.99 L385.18 258.97 L386.67 258.94 L388.17 258.91 L389.67 258.88 L391.16 258.85 L392.66 258.82 L394.16 258.78 L395.65 258.74 L397.15 258.71 L398.65 258.66 L400.14 258.62 L401.64 258.58 L403.13 258.53 L404.63 258.48 L406.12 258.44 L407.62 258.38 L409.11 258.33 L410.61 258.28 L412.10 258.22 L413.60 258.16 L415.09 258.10 L416.58 258.04 L418.08 257.98 L419.57 257.91 L421.07 257.85 L422.56 257.78 L424.05 257.71 L425.54 257.64 L427.04 257.56 L428.53 257.49 L430.02 257.41 L431.51 257.33 L433.00 257.25 L434.50 257.17 L435.99 257.09 L437.48 257.00" stroke="#2bc1c5"/><path d="M56.56 20.02 L56.91 21.49 L57.25 22.97 L57.58 24.45 L57.91 25.93 L58.24 27.41 L58.56 28.89 L58.88 30.37 L59.19 31.85 L59.50 33.33 L59.80 34.81 L60.10 36.29 L60.40 37.77 L60.70 39.25 L60.99 40.73 L61.28 42.21 L61.56 43.69 L61.84 45.17 L62.12 46.65 L62.40 48.13 L62.67 49.61 L62.95 51.09 L63.22 52.57 L63.48 54.05 L63.75 55.53 L64.01 57.01 L64.28 58.49 L64.54 59.97 L64.80 61.45 L65.06 62.92 L65.31 64.40 L65.57 65.88 L65.83 67.36 L66.08 68.83 L66.34 70.31 L66.59 71.79 L66.84 73.26 L67.10 74.74 L67.35 76.21 L67.61 77.69 L67.86 79.16 L68.12 80.63 L68.37 82.11 L68.63 83.58 L68.88 85.05 L69.14 86.52 L69.40 87.99 L69.66 89.46 L69.92 90.93 L70.18 92.40 L70.45 93.87 L70.72 95.34 L70.98 96.81 L71.26 98.27 L71.53 99.74 L71.80 101.21 L72.08 102.67 L72.36 104.13 L72.64 105.60 L72.93 107.06 L73.22 108.52 L73.51 109.98 L73.81 111.44 L74.10 112.90 L74.41 114.36 L74.71 115.81 L75.02 117.27 L75.34 118.73 L75.66 120.18 L75.98 121.63 L76.30 123.09 L76.64 124.54 L76.97 125.99 L77.31 127.44 L77.66 128.89 L78.01 130.33 L78.36 131.78 L78.73 133.23 L79.09 134.67 L79.47 136.11 L79.84 137.55 L80.23 139.00 L80.62 140.43 L81.01 141.87 L81.42 143.31 L81.83 144.75 L82.24 146.18 L82.66 147.61 L83.09 149.05 L83.53 150.48 L83.97 151.91 L84.42 153.33 L84.88 154.76 L85.35 156.19 L85.82 157.61 L86.30 159.03 L86.79 160.45 L87.29 161.87 L87.79 163.29 L88.31 164.71 L88.83 166.12 L89.36 167.54 L89.90 168.95 L90.45 170.36 L91.01 171.77 L91.57 173.18 L92.15 174.58 L92.74 175.99 L93.33 177.39 L93.94 178.79 L94.55 180.19 L95.18 181.59 L95.81 182.99 L96.46 184.38 L97.11 185.77 L97.78 187.16 L98.46 188.55 L99.15 189.93 L99.85 191.31 L100.57 192.68 L101.30 194.03 L102.04 195.38 L102.81 196.71 L103.59 198.03 L104.38 199.33 L105.20 200.61 L106.04 201.88 L106.89 203.12 L107.77 204.33 L108.67 205.53 L109.59 206.69 L110.54 207.83 L111.51 208.93 L112.51 210.00 L113.53 211.04 L114.58 212.05 L115.66 213.01 L116.76 213.94 L117.90 214.83 L119.07 215.67 L120.26 216.47 L121.49 217.23 L122.76 217.94 L124.05 218.59 L125.38 219.20 L126.73 219.74 L128.11 220.22 L129.51 220.63 L130.93 220.97 L132.37 221.23 L133.82 221.41 L135.28 221.50 L136.76 221.50 L138.24 221.42 L139.73 221.26 L141.22 221.04 L142.72 220.78 L144.22 220.48 L145.73 220.16 L147.23 219.84 L148.73 219.51 L150.22 219.21 L151.72 218.93 L153.20 218.69 L154.68 218.51 L156.15 218.39 L157.61 218.34 L159.07 218.34 L160.52 218.39 L161.96 218.50 L163.40 218.65 L164.83 218.86 L166.25 219.10 L167.67 219.38 L169.09 219.70 L170.51 220.06 L171.92 220.44 L173.33 220.86 L174.73 221.30 L176.14 221.76 L177.54 222.24 L178.94 222.73 L180.34 223.24 L181.74 223.76 L183.15 224.28 L184.55 224.81 L185.96 225.34 L187.36 225.87 L188.77 226.40 L190.18 226.92 L191.60 227.42 L193.02 227.91 L194.44 228.39 L195.87 228.86 L197.30 229.31 L198.74 229.75 L200.17 230.18 L201.61 230.59 L203.06 230.99 L204.51 231.38 L205.96 231.76 L207.41 232.13 L208.86 232.49 L210.32 232.83 L211.78 233.17 L213.25 233.50 L214.71 233.81 L216.18 234.12 L217.65 234.42 L219.12 234.72 L220.59 235.00 L222.06 235.27 L223.54 235.54 L225.02 235.80 L226.50 236.06 L227.98 236.31 L229.46 236.55 L230.94 236.79 L232.42 237.02 L233.91 237.24 L235.39 237.46 L236.87 237.68 L238.36 237.89 L239.85 238.10 L241.33 238.31 L242.82 238.51 L244.30 238.70 L245.79 238.89 L247.28 239.08 L248.77 239.27 L250.25 239.44 L251.74 239.62 L253.23 239.79 L254.72 239.96 L256.21 240.13 L257.70 240.29 L259.19 240.44 L260.68 240.60 L262.17 240.75 L263.66 240.89 L265.16 241.03 L266.65 241.17 L268.14 241.31 L269.63 241.44 L271.13 241.57 L272.62 241.69 L274.11 241.81 L275.61 241.93 L277.10 242.05 L278.59 242.16 L280.09 242.27 L281.58 242.37 L283.08 242.47 L284.57 242.57 L286.07 242.67 L287.57 242.76 L289.06 242.85 L290.56 242.93 L292.05 243.02 L293.55 243.10 L295.05 243.17 L296.55 243.25 L298.04 243.32 L299.54 243.39 L301.04 243.45 L302.54 243.52 L304.03 243.57 L305.53 243.63 L307.03 243.69 L308.53 243.74 L310.03 243.79 L311.53 243.83 L313.03 243.88 L314.53 243.92 L316.03 243.96 L317.53 244.00 L319.03 244.03 L320.53 244.06 L322.03 244.09 L323.53 244.12 L325.03 244.14 L326.53 244.17 L328.03 244.19 L329.53 244.21 L331.03 244.22 L332.53 244.24 L334.03 244.25 L335.53 244.26 L337.03 244.27 L338.53 244.27 L340.03 244.27 L341.53 244.28 L343.03 244.28 L344.54 244.27 L346.04 244.27 L347.54 244.27 L349.04 244.26 L350.54 244.25 L352.04 244.24 L353.54 244.23 L355.05 244.21 L356.55 244.20 L358.05 244.18 L359.55 244.16 L361.05 244.14 L362.55 244.12 L364.05 244.10 L365.55 244.07 L367.06 244.05 L368.56 244.02 L370.06 243.99 L371.56 243.96 L373.06 243.93 L374.56 243.90 L376.06 243.87 L377.56 243.83 L379.06 243.80 L380.56 243.76 L382.06 243.72 L383.56 243.68 L385.06 243.65 L386.56 243.61 L388.06 243.56 L389.56 243.52 L391.06 243.48 L392.56 243.44 L394.06 243.39 L395.56 243.35 L397.06 243.30 L398.56 243.25 L400.06 243.21 L401.56 243.16 L403.06 243.11 L404.56 243.06 L406.05 243.01 L407.55 242.96 L409.05 242.91 L410.55 242.86 L412.05 242.81 L413.54 242.76 L415.04 242.71 L416.54 242.65 L418.03 242.60 L419.53 242.55 L421.03 242.50 L422.52 242.45 L424.02 242.39 L425.51 242.34 L427.01 242.29 L428.50 242.23 L430.00 242.18 L431.49 242.13 L432.99 242.08 L434.48 242.02 L435.97 241.97 L437.47 241.92" stroke="#7a5151"/><path d="M61.60 19.94 L61.78 21.45 L61.97 22.96 L62.16 24.46 L62.36 25.96 L62.56 27.46 L62.76 28.96 L62.97 30.46 L63.18 31.95 L63.39 33.44 L63.60 34.93 L63.82 36.42 L64.05 37.91 L64.27 39.39 L64.50 40.87 L64.73 42.35 L64.97 43.83 L65.20 45.31 L65.44 46.79 L65.69 48.26 L65.93 49.74 L66.18 51.21 L66.43 52.68 L66.68 54.15 L66.93 55.62 L67.19 57.09 L67.45 58.56 L67.70 60.03 L67.97 61.49 L68.23 62.96 L68.49 64.42 L68.76 65.89 L69.03 67.35 L69.30 68.82 L69.57 70.28 L69.84 71.74 L70.11 73.21 L70.39 74.67 L70.66 76.13 L70.94 77.60 L71.21 79.06 L71.49 80.52 L71.77 81.99 L72.05 83.45 L72.33 84.92 L72.61 86.38 L72.89 87.85 L73.17 89.31 L73.45 90.78 L73.73 92.25 L74.01 93.72 L74.29 95.19 L74.58 96.66 L74.86 98.13 L75.14 99.60 L75.42 101.08 L75.70 102.55 L75.98 104.03 L76.26 105.51 L76.54 106.99 L76.81 108.47 L77.09 109.95 L77.37 111.43 L77.65 112.91 L77.93 114.40 L78.22 115.88 L78.50 117.37 L78.79 118.85 L79.09 120.33 L79.38 121.81 L79.69 123.29 L79.99 124.77 L80.30 126.25 L80.62 127.73 L80.95 129.20 L81.28 130.68 L81.62 132.15 L81.96 133.61 L82.32 135.08 L82.68 136.54 L83.06 138.00 L83.44 139.45 L83.84 140.90 L84.24 142.35 L84.66 143.79 L85.08 145.23 L85.52 146.66 L85.98 148.09 L86.44 149.51 L86.92 150.93 L87.42 152.34 L87.92 153.74 L88.45 155.14 L88.99 156.54 L89.54 157.92 L90.11 159.30 L90.70 160.67 L91.31 162.04 L91.93 163.40 L92.58 164.74 L93.24 166.09 L93.92 167.42 L94.62 168.74 L95.34 170.06 L96.09 171.37 L96.85 172.66 L97.64 173.94 L98.45 175.21 L99.28 176.46 L100.14 177.69 L101.02 178.89 L101.92 180.07 L102.86 181.22 L103.82 182.34 L104.80 183.42 L105.82 184.47 L106.86 185.48 L107.93 186.44 L109.03 187.37 L110.16 188.25 L111.32 189.07 L112.52 189.85 L113.74 190.57 L115.00 191.24 L116.29 191.85 L117.62 192.40 L118.97 192.89 L120.35 193.33 L121.75 193.73 L123.18 194.10 L124.62 194.43 L126.07 194.73 L127.54 195.01 L129.01 195.28 L130.48 195.53 L131.96 195.78 L133.44 196.02 L134.92 196.25 L136.40 196.48 L137.88 196.71 L139.37 196.95 L140.85 197.18 L142.33 197.42 L143.81 197.67 L145.29 197.93 L146.77 198.20 L148.24 198.48 L149.71 198.77 L151.18 199.07 L152.64 199.38 L154.11 199.70 L155.57 200.04 L157.03 200.38 L158.48 200.73 L159.93 201.09 L161.39 201.45 L162.84 201.83 L164.28 202.22 L165.73 202.61 L167.17 203.01 L168.61 203.42 L170.05 203.83 L171.49 204.25 L172.93 204.68 L174.36 205.12 L175.80 205.56 L177.23 206.01 L178.66 206.46 L180.09 206.92 L181.52 207.38 L182.94 207.85 L184.37 208.32 L185.79 208.80 L187.22 209.28 L188.64 209.76 L190.06 210.25 L191.48 210.74 L192.90 211.24 L194.32 211.74 L195.74 212.24 L197.15 212.74 L198.57 213.24 L199.99 213.75 L201.40 214.25 L202.82 214.76 L204.23 215.27 L205.65 215.78 L207.06 216.29 L208.48 216.80 L209.89 217.31 L211.31 217.82 L212.72 218.33 L214.14 218.84 L215.55 219.35 L216.97 219.85 L218.38 220.36 L219.80 220.86 L221.21 221.36 L222.63 221.85 L224.05 222.35 L225.46 222.84 L226.88 223.33 L228.30 223.81 L229.72 224.29 L231.14 224.77 L232.56 225.24 L233.98 225.71 L235.41 226.17 L236.83 226.63 L238.26 227.08 L239.68 227.53 L241.11 227.97 L242.54 228.41 L243.97 228.84 L245.40 229.26 L246.84 229.67 L248.27 230.08 L249.71 230.48 L251.15 230.87 L252.59 231.26 L254.03 231.63 L255.47 232.00 L256.92 232.36 L258.36 232.71 L259.81 233.05 L261.26 233.38 L262.72 233.70 L264.17 234.02 L265.63 234.33 L267.09 234.63 L268.55 234.92 L270.01 235.20 L271.47 235.47 L272.94 235.74 L274.40 236.00 L275.87 236.25 L277.34 236.49 L278.81 236.72 L280.29 236.95 L281.76 237.17 L283.24 237.38 L284.71 237.59 L286.19 237.79 L287.67 237.98 L289.15 238.16 L290.64 238.34 L292.12 238.51 L293.61 238.68 L295.09 238.83 L296.58 238.98 L298.07 239.13 L299.56 239.27 L301.05 239.40 L302.54 239.53 L304.03 239.65 L305.53 239.76 L307.02 239.87 L308.52 239.97 L310.01 240.07 L311.51 240.16 L313.01 240.25 L314.51 240.33 L316.01 240.40 L317.51 240.47 L319.01 240.54 L320.51 240.60 L322.01 240.65 L323.51 240.71 L325.02 240.75 L326.52 240.79 L328.03 240.83 L329.53 240.86 L331.04 240.89 L332.54 240.91 L334.05 240.93 L335.56 240.95 L337.07 240.96 L338.57 240.97 L340.08 240.97 L341.59 240.97 L343.10 240.97 L344.61 240.97 L346.12 240.96 L347.62 240.94 L349.13 240.93 L350.64 240.91 L352.15 240.88 L353.66 240.86 L355.17 240.83 L356.68 240.80 L358.19 240.77 L359.70 240.73 L361.21 240.69 L362.72 240.65 L364.22 240.61 L365.73 240.56 L367.24 240.51 L368.75 240.47 L370.26 240.41 L371.76 240.36 L373.27 240.31 L374.78 240.25 L376.28 240.19 L377.79 240.13 L379.29 240.07 L380.80 240.01 L382.30 239.95 L383.81 239.88 L385.31 239.82 L386.81 239.75 L388.31 239.69 L389.81 239.62 L391.31 239.55 L392.81 239.48 L394.31 239.42 L395.81 239.35 L397.31 239.28 L398.80 239.21 L400.30 239.14 L401.79 239.07 L403.29 239.00 L404.78 238.93 L406.27 238.87 L407.76 238.80 L409.25 238.73 L410.74 238.66 L412.22 238.60 L413.71 238.53 L415.19 238.47 L416.68 238.41 L418.16 238.34 L419.64 238.28 L421.12 238.22 L422.60 238.17 L424.07 238.11 L425.55 238.06 L427.02 238.00 L428.50 237.95 L429.97 237.90 L431.44 237.85 L432.90 237.81 L434.37 237.76 L435.84 237.72 L437.30 237.68" stroke="#8f9c2a"/><path d="M64.21 20.02 L64.44 21.50 L64.68 22.98 L64.91 24.46 L65.14 25.94 L65.37 27.42 L65.60 28.90 L65.82 30.38 L66.05 31.86 L66.27 33.34 L66.50 34.83 L66.72 36.31 L66.94 37.79 L67.17 39.27 L67.39 40.76 L67.61 42.24 L67.83 43.73 L68.05 45.21 L68.27 46.69 L68.50 48.18 L68.72 49.66 L68.94 51.15 L69.16 52.63 L69.39 54.11 L69.61 55.60 L69.84 57.08 L70.06 58.56 L70.29 60.05 L70.52 61.53 L70.75 63.01 L70.98 64.50 L71.22 65.98 L71.45 67.46 L71.69 68.94 L71.93 70.42 L72.17 71.90 L72.41 73.38 L72.66 74.86 L72.90 76.34 L73.15 77.82 L73.41 79.30 L73.66 80.78 L73.92 82.26 L74.18 83.73 L74.45 85.21 L74.71 86.68 L74.98 88.16 L75.26 89.63 L75.54 91.10 L75.82 92.58 L76.10 94.05 L76.39 95.52 L76.69 96.99 L76.98 98.46 L77.28 99.92 L77.59 101.39 L77.90 102.86 L78.21 104.32 L78.53 105.78 L78.86 107.25 L79.19 108.71 L79.52 110.17 L79.86 111.63 L80.21 113.08 L80.56 114.54 L80.93 115.99 L81.30 117.44 L81.68 118.89 L82.07 120.33 L82.46 121.78 L82.87 123.22 L83.29 124.65 L83.72 126.09 L84.16 127.52 L84.61 128.94 L85.08 130.37 L85.55 131.79 L86.05 133.20 L86.55 134.61 L87.07 136.02 L87.61 137.42 L88.16 138.82 L88.72 140.21 L89.30 141.60 L89.90 142.98 L90.52 144.35 L91.15 145.72 L91.80 147.09 L92.47 148.45 L93.16 149.80 L93.87 151.15 L94.60 152.49 L95.35 153.82 L96.12 155.15 L96.92 156.47 L97.74 157.77 L98.58 159.04 L99.46 160.29 L100.38 161.49 L101.33 162.65 L102.33 163.76 L103.37 164.80 L104.46 165.77 L105.59 166.67 L106.78 167.49 L108.01 168.24 L109.29 168.92 L110.60 169.53 L111.95 170.07 L113.32 170.56 L114.73 170.98 L116.16 171.34 L117.61 171.66 L119.07 171.93 L120.55 172.18 L122.03 172.42 L123.51 172.66 L124.99 172.92 L126.46 173.21 L127.92 173.55 L129.35 173.94 L130.76 174.40 L132.16 174.92 L133.54 175.49 L134.90 176.11 L136.24 176.77 L137.58 177.46 L138.91 178.19 L140.23 178.93 L141.54 179.69 L142.85 180.46 L144.16 181.23 L145.48 181.99 L146.79 182.75 L148.11 183.50 L149.43 184.23 L150.76 184.96 L152.09 185.68 L153.42 186.39 L154.75 187.09 L156.09 187.78 L157.43 188.46 L158.77 189.13 L160.12 189.79 L161.47 190.44 L162.82 191.08 L164.18 191.72 L165.53 192.34 L166.90 192.96 L168.26 193.56 L169.63 194.16 L171.00 194.75 L172.37 195.33 L173.74 195.90 L175.12 196.47 L176.50 197.02 L177.88 197.57 L179.27 198.11 L180.66 198.64 L182.05 199.16 L183.44 199.67 L184.84 200.17 L186.24 200.67 L187.64 201.16 L189.04 201.64 L190.45 202.11 L191.86 202.58 L193.27 203.03 L194.68 203.48 L196.09 203.92 L197.51 204.36 L198.93 204.78 L200.35 205.20 L201.78 205.61 L203.20 206.01 L204.63 206.41 L206.06 206.80 L207.50 207.18 L208.93 207.55 L210.37 207.92 L211.81 208.28 L213.25 208.63 L214.69 208.98 L216.14 209.32 L217.58 209.65 L219.03 209.98 L220.48 210.30 L221.94 210.61 L223.39 210.92 L224.85 211.21 L226.30 211.51 L227.76 211.79 L229.23 212.07 L230.69 212.35 L232.15 212.62 L233.62 212.88 L235.09 213.13 L236.56 213.38 L238.03 213.62 L239.50 213.86 L240.98 214.09 L242.45 214.32 L243.93 214.54 L245.41 214.75 L246.89 214.96 L248.37 215.16 L249.85 215.36 L251.34 215.55 L252.82 215.74 L254.31 215.92 L255.80 216.10 L257.28 216.27 L258.77 216.44 L260.27 216.60 L261.76 216.75 L263.25 216.90 L264.75 217.05 L266.24 217.19 L267.74 217.33 L269.24 217.46 L270.74 217.58 L272.24 217.71 L273.74 217.82 L275.24 217.94 L276.74 218.05 L278.25 218.15 L279.75 218.25 L281.26 218.35 L282.76 218.44 L284.27 218.53 L285.78 218.61 L287.28 218.69 L288.79 218.76 L290.30 218.84 L291.81 218.90 L293.32 218.97 L294.83 219.03 L296.34 219.08 L297.86 219.14 L299.37 219.19 L300.88 219.23 L302.40 219.28 L303.91 219.32 L305.43 219.35 L306.94 219.38 L308.46 219.41 L309.97 219.44 L311.49 219.47 L313.00 219.49 L314.52 219.50 L316.03 219.52 L317.55 219.53 L319.07 219.54 L320.59 219.55 L322.10 219.55 L323.62 219.55 L325.14 219.55 L326.65 219.55 L328.17 219.54 L329.69 219.53 L331.20 219.52 L332.72 219.51 L334.24 219.50 L335.75 219.48 L337.27 219.46 L338.79 219.44 L340.30 219.42 L341.82 219.39 L343.34 219.37 L344.85 219.34 L346.37 219.31 L347.88 219.28 L349.39 219.24 L350.91 219.21 L352.42 219.17 L353.93 219.14 L355.45 219.10 L356.96 219.06 L358.47 219.02 L359.98 218.98 L361.49 218.93 L363.00 218.89 L364.51 218.84 L366.02 218.80 L367.53 218.75 L369.03 218.70 L370.54 218.66 L372.05 218.61 L373.55 218.56 L375.05 218.51 L376.56 218.46 L378.06 218.41 L379.56 218.36 L381.06 218.30 L382.56 218.25 L384.06 218.20 L385.56 218.15 L387.05 218.10 L388.55 218.05 L390.04 217.99 L391.54 217.94 L393.03 217.89 L394.52 217.84 L396.01 217.79 L397.50 217.74 L398.99 217.69 L400.47 217.64 L401.96 217.59 L403.44 217.54 L404.92 217.49 L406.40 217.45 L407.88 217.40 L409.36 217.36 L410.84 217.31 L412.31 217.27 L413.79 217.23 L415.26 217.18 L416.73 217.14 L418.20 217.11 L419.66 217.07 L421.13 217.03 L422.59 217.00 L424.06 216.96 L425.52 216.93 L426.98 216.90 L428.43 216.87 L429.89 216.85 L431.34 216.82 L432.79 216.80 L434.24 216.78 L435.69 216.76 L437.14 216.74" stroke="#ea742b"/><path d="M66.64 20.05 L66.83 21.51 L67.03 22.98 L67.22 24.44 L67.42 25.91 L67.63 27.38 L67.83 28.85 L68.04 30.33 L68.26 31.80 L68.47 33.28 L68.69 34.76 L68.92 36.24 L69.14 37.72 L69.37 39.20 L69.60 40.69 L69.84 42.17 L70.08 43.66 L70.32 45.14 L70.57 46.63 L70.82 48.11 L71.07 49.60 L71.33 51.09 L71.58 52.57 L71.85 54.06 L72.11 55.55 L72.38 57.03 L72.65 58.52 L72.93 60.00 L73.20 61.49 L73.48 62.97 L73.77 64.45 L74.06 65.93 L74.35 67.41 L74.64 68.89 L74.94 70.36 L75.24 71.84 L75.54 73.31 L75.84 74.78 L76.15 76.25 L76.47 77.71 L76.78 79.18 L77.10 80.64 L77.42 82.10 L77.74 83.55 L78.07 85.00 L78.40 86.45 L78.74 87.90 L79.07 89.34 L79.41 90.78 L79.76 92.22 L80.11 93.66 L80.46 95.09 L80.83 96.52 L81.19 97.95 L81.56 99.38 L81.94 100.81 L82.33 102.23 L82.72 103.65 L83.12 105.07 L83.53 106.49 L83.95 107.91 L84.38 109.33 L84.81 110.75 L85.26 112.17 L85.71 113.58 L86.18 115.00 L86.65 116.42 L87.14 117.83 L87.64 119.25 L88.15 120.67 L88.67 122.08 L89.21 123.50 L89.76 124.92 L90.32 126.34 L90.90 127.76 L91.49 129.19 L92.09 130.61 L92.71 132.04 L93.34 133.46 L94.00 134.89 L94.66 136.32 L95.35 137.74 L96.06 139.14 L96.79 140.53 L97.55 141.89 L98.34 143.22 L99.16 144.52 L100.01 145.78 L100.89 146.99 L101.81 148.15 L102.77 149.26 L103.77 150.31 L104.81 151.29 L105.89 152.20 L107.02 153.03 L108.20 153.78 L109.43 154.44 L110.71 155.02 L112.03 155.53 L113.39 155.97 L114.78 156.37 L116.20 156.71 L117.64 157.02 L119.10 157.30 L120.58 157.56 L122.07 157.81 L123.56 158.06 L125.05 158.32 L126.54 158.59 L128.02 158.89 L129.49 159.23 L130.94 159.60 L132.37 160.01 L133.79 160.45 L135.20 160.93 L136.59 161.44 L137.97 161.98 L139.34 162.55 L140.70 163.14 L142.04 163.76 L143.38 164.40 L144.71 165.06 L146.04 165.74 L147.35 166.44 L148.66 167.15 L149.97 167.87 L151.27 168.60 L152.57 169.34 L153.87 170.09 L155.16 170.84 L156.46 171.60 L157.75 172.35 L159.04 173.10 L160.34 173.86 L161.64 174.60 L162.94 175.34 L164.25 176.07 L165.56 176.79 L166.87 177.49 L168.20 178.18 L169.53 178.86 L170.87 179.52 L172.21 180.16 L173.56 180.78 L174.92 181.39 L176.28 181.99 L177.65 182.57 L179.03 183.13 L180.41 183.69 L181.80 184.22 L183.19 184.75 L184.59 185.26 L186.00 185.75 L187.41 186.24 L188.82 186.71 L190.24 187.17 L191.66 187.62 L193.09 188.06 L194.52 188.48 L195.95 188.90 L197.39 189.30 L198.83 189.69 L200.28 190.08 L201.72 190.45 L203.17 190.82 L204.63 191.17 L206.08 191.52 L207.54 191.86 L209.00 192.19 L210.46 192.51 L211.92 192.83 L213.39 193.14 L214.85 193.44 L216.32 193.73 L217.79 194.02 L219.26 194.30 L220.73 194.58 L222.20 194.85 L223.67 195.11 L225.14 195.37 L226.61 195.62 L228.09 195.87 L229.56 196.11 L231.04 196.35 L232.51 196.57 L233.99 196.80 L235.47 197.02 L236.95 197.23 L238.43 197.44 L239.91 197.64 L241.39 197.84 L242.87 198.03 L244.35 198.22 L245.83 198.40 L247.32 198.57 L248.80 198.75 L250.28 198.91 L251.77 199.07 L253.26 199.23 L254.74 199.38 L256.23 199.53 L257.72 199.67 L259.21 199.81 L260.69 199.95 L262.18 200.08 L263.67 200.20 L265.16 200.32 L266.66 200.44 L268.15 200.55 L269.64 200.66 L271.13 200.76 L272.63 200.86 L274.12 200.96 L275.61 201.05 L277.11 201.14 L278.60 201.23 L280.10 201.31 L281.59 201.39 L283.09 201.46 L284.59 201.53 L286.08 201.60 L287.58 201.66 L289.08 201.72 L290.58 201.78 L292.07 201.83 L293.57 201.88 L295.07 201.93 L296.57 201.97 L298.07 202.01 L299.57 202.05 L301.07 202.08 L302.57 202.12 L304.07 202.15 L305.58 202.17 L307.08 202.20 L308.58 202.22 L310.08 202.24 L311.58 202.25 L313.08 202.27 L314.59 202.28 L316.09 202.29 L317.59 202.30 L319.09 202.30 L320.60 202.30 L322.10 202.30 L323.60 202.30 L325.11 202.30 L326.61 202.30 L328.12 202.29 L329.62 202.28 L331.12 202.27 L332.63 202.26 L334.13 202.24 L335.63 202.23 L337.14 202.21 L338.64 202.19 L340.15 202.17 L341.65 202.15 L343.15 202.13 L344.66 202.11 L346.16 202.08 L347.67 202.06 L349.17 202.03 L350.67 202.01 L352.18 201.98 L353.68 201.95 L355.19 201.92 L356.69 201.89 L358.19 201.86 L359.70 201.83 L361.20 201.79 L362.70 201.76 L364.20 201.73 L365.71 201.69 L367.21 201.66 L368.71 201.63 L370.21 201.59 L371.72 201.56 L373.22 201.52 L374.72 201.49 L376.22 201.46 L377.72 201.42 L379.22 201.39 L380.72 201.35 L382.22 201.32 L383.72 201.29 L385.22 201.26 L386.72 201.22 L388.22 201.19 L389.72 201.16 L391.21 201.13 L392.71 201.10 L394.21 201.07 L395.71 201.04 L397.20 201.02 L398.70 200.99 L400.19 200.97 L401.69 200.94 L403.18 200.92 L404.68 200.90 L406.17 200.88 L407.67 200.86 L409.16 200.84 L410.65 200.82 L412.14 200.81 L413.63 200.80 L415.13 200.78 L416.62 200.77 L418.11 200.77 L419.59 200.76 L421.08 200.75 L422.57 200.75 L424.06 200.75 L425.55 200.75 L427.03 200.76 L428.52 200.76 L430.00 200.77 L431.49 200.78 L432.97 200.79 L434.45 200.80 L435.94 200.82 L437.42 200.84" stroke="#6b9bd2"/><path d="M69.16 20.01 L69.34 21.48 L69.52 22.95 L69.70 24.43 L69.89 25.90 L70.08 27.38 L70.28 28.85 L70.48 30.32 L70.69 31.80 L70.90 33.27 L71.12 34.74 L71.34 36.21 L71.56 37.68 L71.80 39.15 L72.03 40.62 L72.28 42.09 L72.53 43.56 L72.78 45.02 L73.04 46.49 L73.31 47.95 L73.58 49.42 L73.86 50.88 L74.14 52.34 L74.43 53.80 L74.72 55.26 L75.03 56.72 L75.33 58.17 L75.65 59.63 L75.97 61.08 L76.30 62.53 L76.63 63.98 L76.97 65.43 L77.32 66.88 L77.68 68.32 L78.04 69.76 L78.41 71.20 L78.78 72.64 L79.17 74.08 L79.56 75.51 L79.95 76.94 L80.36 78.37 L80.77 79.80 L81.19 81.22 L81.62 82.65 L82.06 84.07 L82.50 85.48 L82.95 86.90 L83.41 88.31 L83.88 89.72 L84.36 91.13 L84.84 92.53 L85.33 93.93 L85.84 95.33 L86.34 96.73 L86.86 98.12 L87.39 99.51 L87.93 100.89 L88.47 102.27 L89.02 103.65 L89.59 105.03 L90.16 106.40 L90.74 107.77 L91.33 109.14 L91.93 110.50 L92.54 111.86 L93.16 113.21 L93.79 114.56 L94.42 115.91 L95.07 117.25 L95.73 118.59 L96.40 119.92 L97.60 120.46 L98.96 121.02 L100.30 121.62 L101.62 122.27 L102.93 122.94 L104.23 123.63 L105.52 124.34 L106.82 125.04 L108.12 125.74 L109.43 126.42 L110.75 127.07 L112.09 127.68 L113.45 128.24 L114.83 128.75 L116.25 129.19 L117.09 130.57 L118.24 131.48 L119.40 132.37 L120.56 133.26 L121.75 134.14 L122.94 135.01 L124.14 135.88 L125.35 136.74 L126.56 137.60 L127.79 138.45 L129.02 139.30 L130.26 140.14 L131.51 140.97 L132.76 141.80 L134.02 142.62 L135.28 143.44 L136.55 144.25 L137.82 145.05 L139.10 145.85 L140.38 146.65 L141.66 147.43 L142.95 148.21 L144.24 148.98 L145.54 149.74 L146.84 150.49 L148.15 151.23 L149.46 151.96 L150.78 152.67 L152.10 153.37 L153.43 154.05 L154.77 154.72 L156.11 155.38 L157.45 156.01 L158.81 156.63 L160.17 157.23 L161.53 157.81 L162.91 158.37 L164.29 158.91 L165.67 159.42 L167.07 159.91 L168.47 160.38 L169.88 160.83 L171.30 161.24 L172.73 161.64 L174.16 162.01 L175.60 162.36 L177.05 162.69 L178.50 163.00 L179.95 163.30 L181.41 163.59 L182.88 163.86 L184.35 164.12 L185.82 164.38 L187.29 164.63 L188.77 164.87 L190.24 165.12 L191.72 165.36 L193.20 165.60 L194.68 165.85 L196.15 166.10 L197.63 166.36 L199.10 166.63 L200.57 166.90 L202.05 167.18 L203.52 167.46 L204.98 167.76 L206.45 168.05 L207.92 168.36 L209.38 168.67 L210.85 168.98 L212.31 169.30 L213.77 169.62 L215.23 169.95 L216.69 170.28 L218.15 170.62 L219.61 170.96 L221.07 171.30 L222.52 171.64 L223.98 171.99 L225.44 172.34 L226.89 172.69 L228.35 173.05 L229.80 173.41 L231.26 173.77 L232.71 174.13 L234.16 174.49 L235.62 174.85 L237.07 175.21 L238.52 175.57 L239.97 175.93 L241.43 176.30 L242.88 176.66 L244.33 177.02 L245.78 177.38 L247.24 177.74 L248.69 178.10 L250.14 178.45 L251.60 178.81 L253.05 179.16 L254.50 179.51 L255.96 179.85 L257.41 180.20 L258.87 180.53 L260.32 180.87 L261.78 181.20 L263.24 181.53 L264.69 181.86 L266.15 182.18 L267.61 182.49 L269.07 182.80 L270.53 183.11 L272.00 183.41 L273.46 183.70 L274.92 183.99 L276.39 184.27 L277.85 184.54 L279.32 184.81 L280.79 185.07 L282.26 185.33 L283.73 185.58 L285.20 185.82 L286.67 186.06 L288.15 186.29 L289.62 186.51 L291.09 186.73 L292.57 186.95 L294.05 187.15 L295.53 187.36 L297.00 187.55 L298.48 187.74 L299.97 187.93 L301.45 188.11 L302.93 188.28 L304.41 188.45 L305.90 188.62 L307.38 188.78 L308.87 188.93 L310.35 189.08 L311.84 189.23 L313.33 189.37 L314.81 189.50 L316.30 189.63 L317.79 189.76 L319.28 189.88 L320.77 190.00 L322.26 190.11 L323.76 190.22 L325.25 190.32 L326.74 190.42 L328.23 190.52 L329.73 190.61 L331.22 190.70 L332.72 190.78 L334.21 190.86 L335.71 190.94 L337.20 191.01 L338.70 191.08 L340.20 191.15 L341.70 191.21 L343.19 191.27 L344.69 191.32 L346.19 191.38 L347.69 191.43 L349.19 191.47 L350.69 191.52 L352.18 191.56 L353.68 191.60 L355.18 191.63 L356.68 191.66 L358.18 191.69 L359.68 191.72 L361.18 191.75 L362.68 191.77 L364.19 191.79 L365.69 191.81 L367.19 191.82 L368.69 191.84 L370.19 191.85 L371.69 191.86 L373.19 191.87 L374.69 191.87 L376.19 191.88 L377.69 191.88 L379.19 191.88 L380.69 191.88 L382.19 191.88 L383.69 191.87 L385.19 191.87 L386.69 191.86 L388.19 191.86 L389.69 191.85 L391.19 191.84 L392.69 191.83 L394.19 191.82 L395.69 191.81 L397.19 191.79 L398.69 191.78 L400.18 191.77 L401.68 191.75 L403.18 191.74 L404.68 191.72 L406.17 191.71 L407.67 191.69 L409.16 191.68 L410.66 191.66 L412.15 191.65 L413.65 191.63 L415.14 191.62 L416.63 191.60 L418.13 191.59 L419.62 191.57 L421.11 191.56 L422.60 191.54 L424.09 191.53 L425.58 191.52 L427.07 191.51 L428.56 191.50 L430.05 191.49 L431.53 191.48 L433.02 191.47 L434.50 191.46 L435.99 191.46 L437.47 191.45" stroke="#7cbb2f"/><path d="M71.79 20.10 L71.93 21.51 L72.08 22.94 L72.23 24.37 L72.38 25.81 L72.54 27.26 L72.71 28.71 L72.88 30.18 L73.06 31.65 L73.25 33.13 L73.44 34.61 L73.64 36.09 L73.85 37.58 L74.07 39.08 L74.29 40.58 L74.53 42.08 L74.77 43.58 L75.02 45.08 L75.29 46.58 L75.56 48.09 L75.85 49.59 L76.15 51.09 L76.46 52.59 L76.78 54.09 L77.12 55.58 L77.46 57.07 L77.82 58.56 L78.20 60.04 L78.59 61.52 L78.99 62.99 L79.41 64.45 L79.85 65.91 L80.30 67.36 L80.76 68.80 L81.24 70.24 L81.74 71.66 L82.26 73.07 L82.79 74.47 L83.35 75.87 L83.92 77.24 L84.51 78.61 L85.12 79.97 L85.74 81.31 L86.39 82.63 L87.06 83.94 L87.75 85.24 L88.46 86.52 L89.19 87.78 L89.95 89.03 L90.73 90.26 L91.53 91.47 L92.35 92.66 L93.19 93.83 L94.06 94.98 L94.96 96.11 L95.88 97.22 L96.82 98.31 L97.79 99.38 L98.78 100.42 L99.81 101.44 L100.85 102.43 L101.93 103.40 L103.03 104.35 L104.16 105.26 L105.32 106.16 L106.50 107.02 L107.71 107.86 L108.95 108.69 L110.20 109.50 L111.46 110.29 L112.73 111.08 L114.02 111.86 L115.31 112.65 L116.60 113.43 L117.88 114.22 L119.17 115.03 L120.44 115.84 L121.71 116.67 L122.95 117.53 L124.19 118.40 L125.40 119.31 L126.58 120.25 L127.74 121.22 L128.86 122.23 L129.96 123.28 L131.03 124.36 L132.07 125.47 L133.10 126.61 L134.10 127.76 L135.10 128.93 L136.09 130.10 L137.07 131.28 L138.05 132.46 L139.03 133.64 L140.01 134.80 L141.01 135.95 L142.02 137.07 L143.04 138.18 L144.08 139.25 L145.15 140.28 L146.24 141.28 L147.37 142.23 L148.53 143.14 L149.72 143.99 L150.94 144.80 L152.18 145.55 L153.46 146.24 L154.76 146.88 L156.09 147.47 L157.44 147.99 L158.82 148.46 L160.21 148.87 L161.63 149.21 L163.06 149.49 L164.51 149.71 L165.98 149.86 L167.45 149.95 L168.95 149.98 L170.45 149.97 L171.96 149.91 L173.48 149.82 L175.01 149.71 L176.54 149.58 L178.07 149.43 L179.61 149.29 L181.14 149.15 L182.67 149.02 L184.21 148.91 L185.73 148.83 L187.25 148.78 L188.77 148.76 L190.27 148.77 L191.78 148.81 L193.28 148.88 L194.77 148.97 L196.26 149.09 L197.74 149.24 L199.22 149.41 L200.70 149.60 L202.17 149.82 L203.64 150.05 L205.11 150.30 L206.57 150.57 L208.03 150.86 L209.49 151.16 L210.94 151.48 L212.39 151.81 L213.84 152.15 L215.29 152.51 L216.74 152.87 L218.18 153.24 L219.62 153.62 L221.07 154.01 L222.51 154.40 L223.95 154.80 L225.39 155.20 L226.83 155.60 L228.27 156.00 L229.71 156.40 L231.15 156.80 L232.59 157.20 L234.03 157.60 L235.48 157.98 L236.92 158.37 L238.37 158.74 L239.81 159.11 L241.26 159.48 L242.71 159.83 L244.16 160.18 L245.62 160.53 L247.07 160.86 L248.52 161.19 L249.98 161.52 L251.44 161.83 L252.90 162.15 L254.36 162.45 L255.82 162.75 L257.28 163.04 L258.74 163.33 L260.21 163.61 L261.67 163.88 L263.14 164.15 L264.61 164.41 L266.08 164.66 L267.54 164.91 L269.02 165.16 L270.49 165.39 L271.96 165.63 L273.43 165.85 L274.91 166.07 L276.38 166.29 L277.86 166.49 L279.34 166.70 L280.82 166.89 L282.30 167.08 L283.78 167.27 L285.26 167.45 L286.74 167.63 L288.22 167.79 L289.70 167.96 L291.19 168.12 L292.67 168.27 L294.16 168.42 L295.64 168.56 L297.13 168.70 L298.62 168.83 L300.11 168.96 L301.59 169.08 L303.08 169.19 L304.57 169.31 L306.06 169.41 L307.55 169.51 L309.05 169.61 L310.54 169.70 L312.03 169.79 L313.52 169.87 L315.02 169.95 L316.51 170.02 L318.01 170.09 L319.50 170.15 L321.00 170.21 L322.49 170.26 L323.99 170.31 L325.48 170.35 L326.98 170.39 L328.48 170.43 L329.98 170.46 L331.47 170.49 L332.97 170.51 L334.47 170.53 L335.97 170.54 L337.47 170.55 L338.97 170.55 L340.46 170.56 L341.96 170.55 L343.46 170.55 L344.96 170.53 L346.46 170.52 L347.96 170.50 L349.46 170.48 L350.96 170.45 L352.46 170.42 L353.96 170.38 L355.46 170.34 L356.96 170.30 L358.46 170.26 L359.96 170.21 L361.46 170.15 L362.96 170.09 L364.46 170.03 L365.96 169.97 L367.46 169.90 L368.96 169.83 L370.46 169.76 L371.95 169.68 L373.45 169.60 L374.95 169.51 L376.45 169.42 L377.95 169.33 L379.45 169.24 L380.94 169.14 L382.44 169.04 L383.94 168.94 L385.43 168.83 L386.93 168.72 L388.42 168.61 L389.92 168.49 L391.41 168.37 L392.91 168.25 L394.40 168.12 L395.90 168.00 L397.39 167.87 L398.88 167.73 L400.37 167.60 L401.86 167.46 L403.35 167.32 L404.84 167.18 L406.33 167.03 L407.82 166.88 L409.31 166.73 L410.80 166.58 L412.29 166.42 L413.77 166.26 L415.26 166.10 L416.74 165.94 L418.23 165.78 L419.71 165.61 L421.20 165.44 L422.68 165.27 L424.16 165.10 L425.64 164.92 L427.12 164.74 L428.60 164.56 L430.08 164.38 L431.55 164.20 L433.03 164.02 L434.50 163.83 L435.98 163.64 L437.45 163.45" stroke="#444444"/><path d="M74.50 20.24 L74.67 21.61 L74.85 23.00 L75.03 24.40 L75.22 25.81 L75.41 27.24 L75.61 28.68 L75.82 30.14 L76.04 31.60 L76.27 33.07 L76.51 34.54 L76.76 36.02 L77.02 37.51 L77.29 39.00 L77.57 40.50 L77.87 41.99 L78.19 43.49 L78.52 44.98 L78.86 46.48 L79.22 47.97 L79.60 49.46 L80.00 50.94 L80.42 52.42 L80.85 53.89 L81.31 55.35 L81.79 56.80 L82.28 58.24 L82.81 59.67 L83.35 61.08 L83.92 62.49 L84.51 63.87 L85.13 65.25 L85.77 66.60 L86.44 67.93 L87.14 69.25 L87.87 70.55 L88.62 71.82 L89.41 73.07 L90.22 74.30 L91.07 75.50 L91.95 76.68 L92.86 77.83 L93.80 78.95 L94.78 80.04 L95.79 81.10 L96.84 82.13 L97.92 83.13 L99.03 84.10 L100.17 85.04 L101.33 85.97 L102.51 86.87 L103.71 87.76 L104.93 88.64 L106.16 89.50 L107.39 90.36 L108.63 91.21 L109.87 92.06 L111.11 92.91 L112.34 93.77 L113.56 94.63 L114.78 95.50 L115.97 96.38 L117.16 97.27 L118.33 98.17 L119.49 99.09 L120.64 100.01 L121.78 100.95 L122.90 101.90 L124.02 102.86 L125.13 103.83 L126.24 104.81 L127.34 105.81 L128.43 106.81 L129.52 107.82 L130.60 108.85 L131.68 109.88 L132.76 110.92 L133.84 111.98 L134.91 113.04 L135.99 114.11 L137.07 115.20 L138.15 116.28 L139.24 117.38 L140.32 118.47 L141.42 119.56 L142.51 120.65 L143.62 121.72 L144.73 122.79 L145.84 123.84 L146.97 124.87 L148.10 125.88 L149.25 126.86 L150.40 127.82 L151.57 128.75 L152.75 129.64 L153.94 130.49 L155.15 131.31 L156.37 132.08 L157.60 132.81 L158.85 133.48 L160.12 134.11 L161.40 134.67 L162.71 135.18 L164.03 135.63 L165.37 136.01 L166.73 136.32 L168.12 136.56 L169.52 136.73 L170.95 136.82 L172.40 136.83 L173.87 136.79 L175.36 136.68 L176.86 136.53 L178.37 136.34 L179.90 136.13 L181.44 135.89 L182.98 135.63 L184.52 135.37 L186.07 135.12 L187.62 134.88 L189.17 134.65 L190.72 134.46 L192.26 134.31 L193.79 134.20 L195.31 134.15 L196.82 134.14 L198.32 134.19 L199.82 134.27 L201.31 134.40 L202.79 134.56 L204.26 134.76 L205.73 134.98 L207.20 135.23 L208.66 135.50 L210.12 135.78 L211.58 136.08 L213.04 136.39 L214.49 136.70 L215.95 137.01 L217.41 137.32 L218.86 137.63 L220.32 137.94 L221.78 138.24 L223.24 138.53 L224.70 138.83 L226.16 139.12 L227.62 139.40 L229.09 139.69 L230.55 139.97 L232.02 140.24 L233.48 140.52 L234.95 140.79 L236.41 141.05 L237.88 141.31 L239.35 141.57 L240.82 141.83 L242.29 142.08 L243.76 142.33 L245.23 142.57 L246.70 142.82 L248.18 143.05 L249.65 143.29 L251.12 143.52 L252.60 143.75 L254.07 143.97 L255.55 144.19 L257.03 144.41 L258.50 144.62 L259.98 144.83 L261.46 145.04 L262.94 145.24 L264.42 145.44 L265.90 145.63 L267.38 145.82 L268.86 146.01 L270.34 146.20 L271.82 146.38 L273.31 146.55 L274.79 146.73 L276.27 146.90 L277.76 147.06 L279.24 147.23 L280.73 147.38 L282.21 147.54 L283.70 147.69 L285.19 147.84 L286.67 147.98 L288.16 148.12 L289.65 148.26 L291.14 148.40 L292.63 148.52 L294.11 148.65 L295.60 148.77 L297.09 148.89 L298.58 149.01 L300.07 149.12 L301.57 149.23 L303.06 149.33 L304.55 149.43 L306.04 149.53 L307.53 149.62 L309.03 149.71 L310.52 149.79 L312.01 149.88 L313.50 149.95 L315.00 150.03 L316.49 150.10 L317.99 150.16 L319.48 150.23 L320.98 150.29 L322.47 150.34 L323.97 150.39 L325.46 150.44 L326.96 150.48 L328.45 150.52 L329.95 150.56 L331.44 150.59 L332.94 150.62 L334.44 150.65 L335.93 150.67 L337.43 150.69 L338.93 150.70 L340.42 150.71 L341.92 150.72 L343.42 150.72 L344.91 150.72 L346.41 150.71 L347.91 150.70 L349.41 150.69 L350.90 150.67 L352.40 150.65 L353.90 150.62 L355.39 150.59 L356.89 150.56 L358.39 150.53 L359.89 150.48 L361.38 150.44 L362.88 150.39 L364.38 150.34 L365.88 150.28 L367.37 150.22 L368.87 150.16 L370.37 150.09 L371.86 150.02 L373.36 149.94 L374.86 149.87 L376.35 149.78 L377.85 149.69 L379.35 149.60 L380.84 149.51 L382.34 149.41 L383.83 149.30 L385.33 149.20 L386.83 149.09 L388.32 148.97 L389.82 148.85 L391.31 148.73 L392.81 148.60 L394.30 148.47 L395.79 148.33 L397.29 148.19 L398.78 148.05 L400.28 147.90 L401.77 147.75 L403.26 147.60 L404.75 147.44 L406.25 147.27 L407.74 147.11 L409.23 146.94 L410.72 146.76 L412.21 146.58 L413.70 146.40 L415.19 146.21 L416.68 146.02 L418.17 145.82 L419.66 145.62 L421.15 145.42 L422.64 145.21 L424.13 145.00 L425.61 144.78 L427.10 144.56 L428.59 144.33 L430.07 144.11 L431.56 143.87 L433.05 143.64 L434.53 143.40 L436.02 143.15 L437.50 142.90" stroke="#e0474c"/><path d="M77.69 19.94 L77.75 21.38 L77.83 22.84 L77.93 24.33 L78.05 25.83 L78.19 27.34 L78.36 28.86 L78.56 30.39 L78.79 31.92 L79.04 33.45 L79.33 34.98 L79.65 36.49 L80.00 38.00 L80.40 39.49 L80.83 40.97 L81.30 42.42 L81.81 43.85 L82.37 45.26 L82.98 46.63 L83.63 47.96 L84.32 49.26 L85.07 50.52 L85.87 51.73 L86.72 52.91 L87.62 54.04 L88.55 55.15 L89.51 56.22 L90.51 57.28 L91.53 58.31 L92.57 59.33 L93.63 60.35 L94.70 61.36 L95.78 62.37 L96.86 63.38 L97.93 64.41 L99.00 65.45 L100.06 66.50 L101.10 67.58 L102.14 68.66 L103.17 69.77 L104.19 70.88 L105.20 72.01 L106.21 73.14 L107.22 74.29 L108.22 75.44 L109.21 76.59 L110.21 77.75 L111.20 78.92 L112.19 80.08 L113.18 81.24 L114.17 82.41 L115.16 83.57 L116.16 84.72 L117.16 85.87 L118.16 87.01 L119.17 88.15 L120.19 89.27 L121.21 90.39 L122.24 91.49 L123.28 92.58 L124.33 93.65 L125.39 94.70 L126.46 95.74 L127.54 96.76 L128.63 97.75 L129.74 98.73 L130.86 99.68 L132.00 100.60 L133.16 101.50 L134.33 102.37 L135.52 103.21 L136.73 104.03 L137.95 104.81 L139.20 105.56 L140.46 106.28 L141.74 106.97 L143.04 107.63 L144.35 108.26 L145.68 108.86 L147.02 109.44 L148.37 109.99 L149.74 110.52 L151.12 111.02 L152.51 111.49 L153.91 111.94 L155.32 112.36 L156.73 112.77 L158.16 113.14 L159.60 113.50 L161.04 113.83 L162.48 114.14 L163.94 114.44 L165.39 114.71 L166.86 114.96 L168.32 115.19 L169.79 115.40 L171.26 115.60 L172.74 115.78 L174.22 115.94 L175.70 116.09 L177.19 116.22 L178.67 116.34 L180.16 116.45 L181.66 116.54 L183.15 116.63 L184.65 116.70 L186.15 116.77 L187.65 116.82 L189.15 116.87 L190.65 116.91 L192.15 116.95 L193.66 116.98 L195.16 117.00 L196.67 117.02 L198.18 117.04 L199.69 117.06 L201.19 117.07 L202.70 117.09 L204.21 117.10 L205.72 117.11 L207.22 117.13 L208.73 117.15 L210.24 117.17 L211.74 117.19 L213.25 117.22 L214.75 117.24 L216.25 117.27 L217.76 117.30 L219.26 117.33 L220.76 117.36 L222.27 117.39 L223.77 117.43 L225.27 117.47 L226.77 117.51 L228.27 117.55 L229.77 117.59 L231.27 117.63 L232.77 117.67 L234.27 117.72 L235.77 117.77 L237.27 117.81 L238.77 117.86 L240.27 117.91 L241.77 117.97 L243.26 118.02 L244.76 118.07 L246.26 118.13 L247.75 118.18 L249.25 118.24 L250.75 118.30 L252.24 118.36 L253.74 118.42 L255.23 118.48 L256.73 118.54 L258.22 118.60 L259.72 118.67 L261.21 118.73 L262.70 118.79 L264.20 118.86 L265.69 118.93 L267.18 118.99 L268.68 119.06 L270.17 119.13 L271.66 119.20 L273.16 119.26 L274.65 119.33 L276.14 119.40 L277.63 119.47 L279.12 119.54 L280.61 119.62 L282.11 119.69 L283.60 119.76 L285.09 119.83 L286.58 119.90 L288.07 119.97 L289.56 120.05 L291.05 120.12 L292.54 120.19 L294.03 120.26 L295.52 120.34 L297.01 120.41 L298.50 120.48 L299.99 120.55 L301.48 120.62 L302.97 120.70 L304.46 120.77 L305.95 120.84 L307.44 120.91 L308.93 120.98 L310.42 121.05 L311.91 121.12 L313.40 121.19 L314.89 121.26 L316.38 121.33 L317.87 121.40 L319.36 121.47 L320.85 121.54 L322.33 121.61 L323.82 121.67 L325.31 121.74 L326.80 121.80 L328.29 121.87 L329.78 121.93 L331.27 122.00 L332.76 122.06 L334.25 122.12 L335.74 122.18 L337.23 122.24 L338.72 122.30 L340.21 122.36 L341.70 122.41 L343.19 122.47 L344.68 122.53 L346.17 122.58 L347.66 122.63 L349.15 122.68 L350.64 122.73 L352.13 122.78 L353.62 122.83 L355.12 122.88 L356.61 122.92 L358.10 122.97 L359.59 123.01 L361.08 123.05 L362.57 123.09 L364.07 123.13 L365.56 123.17 L367.05 123.20 L368.54 123.24 L370.04 123.27 L371.53 123.30 L373.02 123.33 L374.52 123.36 L376.01 123.38 L377.50 123.41 L379.00 123.43 L380.49 123.45 L381.99 123.47 L383.48 123.48 L384.98 123.50 L386.47 123.51 L387.97 123.52 L389.47 123.53 L390.96 123.54 L392.46 123.54 L393.96 123.55 L395.45 123.55 L396.95 123.54 L398.45 123.54 L399.95 123.53 L401.45 123.53 L402.95 123.51 L404.44 123.50 L405.94 123.49 L407.44 123.47 L408.94 123.45 L410.45 123.43 L411.95 123.40 L413.45 123.37 L414.95 123.34 L416.45 123.31 L417.96 123.27 L419.46 123.24 L420.96 123.20 L422.47 123.15 L423.97 123.11 L425.48 123.06 L426.98 123.01 L428.49 122.95 L429.99 122.89 L431.50 122.83 L433.01 122.77 L434.51 122.70 L436.02 122.63 L437.53 122.56" stroke="#2d6fd1"/><path d="M82.71 19.97 L82.63 21.73 L82.75 23.36 L83.05 24.87 L83.49 26.27 L84.09 27.58 L84.80 28.81 L85.63 29.96 L86.55 31.05 L87.55 32.10 L88.62 33.11 L89.73 34.09 L90.88 35.06 L92.04 36.02 L93.20 36.99 L94.34 37.99 L95.46 39.02 L96.53 40.09 L97.54 41.20 L98.51 42.36 L99.43 43.56 L100.31 44.80 L101.16 46.06 L101.99 47.35 L102.78 48.65 L103.57 49.97 L104.33 51.29 L105.10 52.62 L105.86 53.94 L106.62 55.26 L107.39 56.56 L108.18 57.85 L108.98 59.12 L109.81 60.35 L110.67 61.56 L111.57 62.73 L112.49 63.85 L113.45 64.94 L114.45 65.98 L115.48 66.98 L116.55 67.92 L117.65 68.81 L118.80 69.65 L119.99 70.43 L121.21 71.15 L122.48 71.81 L123.79 72.40 L125.14 72.92 L126.54 73.37 L127.98 73.76 L129.44 74.11 L130.91 74.44 L132.37 74.78 L133.82 75.16 L135.23 75.59 L136.59 76.10 L137.90 76.70 L139.16 77.38 L140.37 78.14 L141.54 78.97 L142.68 79.87 L143.79 80.83 L144.87 81.84 L145.93 82.91 L146.97 84.03 L148.00 85.19 L149.01 86.38 L150.03 87.60 L151.04 88.83 L152.06 90.05 L153.09 91.26 L154.14 92.43 L155.21 93.55 L156.30 94.61 L157.42 95.60 L158.58 96.50 L159.78 97.29 L161.03 97.97 L162.33 98.52 L163.68 98.95 L165.06 99.26 L166.49 99.48 L167.95 99.62 L169.44 99.69 L170.94 99.71 L172.46 99.70 L173.99 99.66 L175.53 99.61 L177.06 99.57 L178.59 99.55 L180.12 99.53 L181.64 99.53 L183.16 99.54 L184.68 99.56 L186.19 99.59 L187.70 99.63 L189.21 99.68 L190.71 99.73 L192.22 99.80 L193.72 99.87 L195.21 99.96 L196.71 100.04 L198.21 100.14 L199.70 100.24 L201.19 100.34 L202.68 100.45 L204.17 100.56 L205.66 100.68 L207.15 100.80 L208.63 100.92 L210.12 101.04 L211.61 101.17 L213.09 101.29 L214.58 101.42 L216.06 101.54 L217.55 101.67 L219.04 101.79 L220.52 101.92 L222.01 102.04 L223.50 102.16 L224.98 102.28 L226.47 102.40 L227.96 102.52 L229.45 102.64 L230.94 102.76 L232.43 102.87 L233.92 102.99 L235.40 103.10 L236.89 103.22 L238.38 103.33 L239.87 103.44 L241.37 103.55 L242.86 103.66 L244.35 103.77 L245.84 103.88 L247.33 103.99 L248.82 104.09 L250.31 104.20 L251.80 104.30 L253.30 104.41 L254.79 104.51 L256.28 104.61 L257.77 104.71 L259.27 104.81 L260.76 104.91 L262.25 105.01 L263.75 105.10 L265.24 105.20 L266.74 105.29 L268.23 105.38 L269.72 105.48 L271.22 105.57 L272.71 105.66 L274.21 105.74 L275.70 105.83 L277.20 105.92 L278.69 106.00 L280.19 106.09 L281.68 106.17 L283.18 106.25 L284.68 106.33 L286.17 106.41 L287.67 106.49 L289.16 106.56 L290.66 106.64 L292.16 106.71 L293.65 106.78 L295.15 106.85 L296.65 106.92 L298.15 106.99 L299.64 107.06 L301.14 107.13 L302.64 107.19 L304.14 107.25 L305.63 107.32 L307.13 107.38 L308.63 107.43 L310.13 107.49 L311.62 107.55 L313.12 107.60 L314.62 107.66 L316.12 107.71 L317.62 107.76 L319.12 107.81 L320.62 107.86 L322.11 107.90 L323.61 107.95 L325.11 107.99 L326.61 108.03 L328.11 108.07 L329.61 108.11 L331.11 108.15 L332.61 108.19 L334.11 108.22 L335.60 108.25 L337.10 108.29 L338.60 108.32 L340.10 108.34 L341.60 108.37 L343.10 108.39 L344.60 108.42 L346.10 108.44 L347.60 108.46 L349.10 108.48 L350.60 108.49 L352.10 108.51 L353.60 108.52 L355.10 108.53 L356.60 108.54 L358.10 108.55 L359.60 108.56 L361.09 108.56 L362.59 108.57 L364.09 108.57 L365.59 108.57 L367.09 108.57 L368.59 108.56 L370.09 108.56 L371.59 108.55 L373.09 108.54 L374.59 108.53 L376.09 108.52 L377.59 108.50 L379.09 108.49 L380.59 108.47 L382.08 108.45 L383.58 108.43 L385.08 108.40 L386.58 108.38 L388.08 108.35 L389.58 108.32 L391.08 108.29 L392.58 108.25 L394.07 108.22 L395.57 108.18 L397.07 108.14 L398.57 108.10 L400.07 108.06 L401.57 108.01 L403.06 107.96 L404.56 107.92 L406.06 107.86 L407.56 107.81 L409.05 107.76 L410.55 107.70 L412.05 107.64 L413.55 107.58 L415.04 107.51 L416.54 107.45 L418.04 107.38 L419.53 107.31 L421.03 107.24 L422.53 107.17 L424.02 107.09 L425.52 107.01 L427.02 106.93 L428.51 106.85 L430.01 106.76 L431.50 106.68 L433.00 106.59 L434.49 106.50 L435.99 106.40 L437.48 106.31" stroke="#38a46f"/><path d="M97.46 19.95 L97.90 21.37 L98.36 22.79 L98.83 24.22 L99.31 25.64 L99.82 27.06 L100.34 28.49 L100.87 29.90 L101.43 31.32 L102.00 32.73 L102.59 34.13 L103.21 35.52 L103.84 36.90 L104.49 38.27 L105.17 39.62 L105.86 40.96 L106.58 42.29 L107.33 43.59 L108.09 44.88 L108.88 46.15 L109.69 47.40 L110.53 48.62 L111.40 49.82 L112.29 51.00 L113.21 52.15 L114.15 53.27 L115.13 54.36 L116.13 55.42 L117.16 56.45 L118.22 57.44 L119.31 58.40 L120.43 59.32 L121.58 60.20 L122.77 61.05 L123.98 61.85 L125.23 62.61 L126.52 63.33 L127.83 64.01 L129.18 64.64 L130.55 65.26 L131.93 65.86 L133.32 66.46 L134.72 67.07 L136.11 67.71 L137.50 68.38 L138.87 69.08 L140.23 69.81 L141.59 70.55 L142.94 71.30 L144.29 72.05 L145.64 72.78 L146.99 73.49 L148.35 74.17 L149.72 74.82 L151.09 75.41 L152.48 75.95 L153.88 76.44 L155.28 76.87 L156.70 77.25 L158.13 77.60 L159.56 77.90 L161.01 78.17 L162.46 78.40 L163.91 78.61 L165.37 78.79 L166.84 78.95 L168.31 79.09 L169.79 79.22 L171.26 79.34 L172.74 79.46 L174.22 79.57 L175.70 79.69 L177.18 79.81 L178.66 79.94 L180.15 80.07 L181.63 80.21 L183.11 80.36 L184.58 80.51 L186.06 80.67 L187.54 80.83 L189.02 81.00 L190.50 81.17 L191.98 81.35 L193.46 81.54 L194.94 81.73 L196.41 81.92 L197.89 82.12 L199.37 82.32 L200.85 82.53 L202.32 82.74 L203.80 82.95 L205.28 83.17 L206.75 83.39 L208.23 83.62 L209.71 83.84 L211.18 84.07 L212.66 84.31 L214.14 84.54 L215.61 84.78 L217.09 85.02 L218.57 85.27 L220.04 85.51 L221.52 85.76 L223.00 86.00 L224.47 86.25 L225.95 86.50 L227.42 86.76 L228.90 87.01 L230.38 87.26 L231.85 87.52 L233.33 87.77 L234.81 88.02 L236.28 88.28 L237.76 88.53 L239.24 88.79 L240.71 89.04 L242.19 89.29 L243.67 89.54 L245.15 89.80 L246.62 90.05 L248.10 90.29 L249.58 90.54 L251.06 90.79 L252.54 91.03 L254.02 91.27 L255.49 91.51 L256.97 91.75 L258.45 91.98 L259.93 92.22 L261.41 92.44 L262.89 92.67 L264.37 92.89 L265.85 93.11 L267.33 93.33 L268.81 93.54 L270.29 93.75 L271.78 93.96 L273.26 94.16 L274.74 94.35 L276.22 94.54 L277.71 94.73 L279.19 94.91 L280.67 95.09 L282.16 95.26 L283.64 95.43 L285.13 95.59 L286.61 95.74 L288.10 95.89 L289.59 96.04 L291.07 96.17 L292.56 96.30 L294.05 96.43 L295.54 96.55 L297.02 96.66 L298.51 96.76 L300.00 96.86 L301.49 96.95 L302.98 97.03 L304.47 97.11 L305.96 97.18 L307.46 97.24 L308.95 97.30 L310.44 97.35 L311.93 97.39 L313.43 97.43 L314.92 97.47 L316.41 97.50 L317.91 97.52 L319.40 97.54 L320.90 97.55 L322.39 97.55 L323.89 97.55 L325.39 97.55 L326.88 97.54 L328.38 97.53 L329.87 97.51 L331.37 97.49 L332.87 97.46 L334.36 97.43 L335.86 97.39 L337.36 97.35 L338.86 97.31 L340.35 97.26 L341.85 97.20 L343.35 97.15 L344.85 97.09 L346.35 97.02 L347.85 96.96 L349.34 96.89 L350.84 96.81 L352.34 96.73 L353.84 96.65 L355.34 96.57 L356.84 96.48 L358.33 96.40 L359.83 96.30 L361.33 96.21 L362.83 96.11 L364.33 96.02 L365.83 95.92 L367.33 95.81 L368.82 95.71 L370.32 95.60 L371.82 95.49 L373.32 95.38 L374.82 95.27 L376.31 95.16 L377.81 95.04 L379.31 94.93 L380.81 94.81 L382.30 94.69 L383.80 94.57 L385.30 94.45 L386.79 94.33 L388.29 94.21 L389.79 94.09 L391.28 93.96 L392.78 93.84 L394.27 93.72 L395.77 93.59 L397.26 93.47 L398.76 93.35 L400.25 93.23 L401.74 93.10 L403.24 92.98 L404.73 92.86 L406.22 92.74 L407.71 92.62 L409.20 92.50 L410.70 92.38 L412.19 92.26 L413.68 92.15 L415.17 92.03 L416.66 91.92 L418.15 91.81 L419.63 91.70 L421.12 91.59 L422.61 91.48 L424.10 91.38 L425.58 91.27 L427.07 91.17 L428.55 91.08 L430.04 90.98 L431.52 90.89 L433.01 90.79 L434.49 90.70 L435.97 90.62 L437.45 90.54" stroke="#b06fd9"/><path d="M123.09 20.62 L123.96 21.67 L124.81 22.75 L125.65 23.85 L126.48 24.98 L127.30 26.14 L128.11 27.32 L128.92 28.53 L129.72 29.75 L130.51 30.99 L131.29 32.26 L132.08 33.54 L132.85 34.83 L133.63 36.14 L134.40 37.46 L135.18 38.80 L135.96 40.14 L136.74 41.48 L137.52 42.83 L138.31 44.17 L139.11 45.52 L139.92 46.86 L140.74 48.19 L141.57 49.51 L142.41 50.83 L143.27 52.12 L144.14 53.41 L145.03 54.67 L145.94 55.91 L146.87 57.13 L147.83 58.32 L148.80 59.49 L149.80 60.62 L150.83 61.73 L151.87 62.79 L152.95 63.82 L154.04 64.81 L155.16 65.76 L156.30 66.66 L157.46 67.52 L158.65 68.33 L159.86 69.09 L161.09 69.80 L162.34 70.44 L163.62 71.04 L164.91 71.57 L166.23 72.04 L167.57 72.44 L168.94 72.78 L170.32 73.05 L171.72 73.26 L173.14 73.41 L174.58 73.51 L176.03 73.56 L177.49 73.57 L178.97 73.55 L180.45 73.50 L181.94 73.43 L183.43 73.34 L184.93 73.24 L186.44 73.13 L187.94 73.03 L189.44 72.92 L190.94 72.81 L192.44 72.71 L193.94 72.61 L195.45 72.51 L196.95 72.41 L198.45 72.32 L199.95 72.22 L201.45 72.13 L202.95 72.04 L204.45 71.94 L205.95 71.86 L207.45 71.77 L208.95 71.68 L210.44 71.60 L211.94 71.51 L213.44 71.43 L214.94 71.35 L216.44 71.27 L217.94 71.20 L219.43 71.12 L220.93 71.05 L222.43 70.97 L223.93 70.90 L225.43 70.83 L226.92 70.77 L228.42 70.70 L229.92 70.63 L231.41 70.57 L232.91 70.51 L234.41 70.44 L235.90 70.38 L237.40 70.33 L238.89 70.27 L240.39 70.21 L241.89 70.16 L243.38 70.10 L244.88 70.05 L246.37 70.00 L247.87 69.95 L249.36 69.91 L250.86 69.86 L252.35 69.81 L253.85 69.77 L255.34 69.73 L256.84 69.69 L258.33 69.65 L259.82 69.61 L261.32 69.57 L262.81 69.53 L264.31 69.50 L265.80 69.47 L267.29 69.43 L268.79 69.40 L270.28 69.37 L271.77 69.34 L273.27 69.32 L274.76 69.29 L276.25 69.27 L277.75 69.24 L279.24 69.22 L280.73 69.20 L282.23 69.18 L283.72 69.16 L285.21 69.14 L286.70 69.12 L288.20 69.11 L289.69 69.09 L291.18 69.08 L292.67 69.07 L294.17 69.06 L295.66 69.05 L297.15 69.04 L298.64 69.03 L300.14 69.03 L301.63 69.02 L303.12 69.02 L304.61 69.01 L306.10 69.01 L307.60 69.01 L309.09 69.01 L310.58 69.01 L312.07 69.02 L313.56 69.02 L315.06 69.02 L316.55 69.03 L318.04 69.04 L319.53 69.04 L321.02 69.05 L322.51 69.06 L324.01 69.07 L325.50 69.08 L326.99 69.10 L328.48 69.11 L329.97 69.12 L331.47 69.14 L332.96 69.16 L334.45 69.17 L335.94 69.19 L337.43 69.21 L338.92 69.23 L340.42 69.25 L341.91 69.28 L343.40 69.30 L344.89 69.32 L346.38 69.35 L347.88 69.37 L349.37 69.40 L350.86 69.43 L352.35 69.46 L353.84 69.49 L355.34 69.52 L356.83 69.55 L358.32 69.58 L359.81 69.61 L361.30 69.65 L362.80 69.68 L364.29 69.72 L365.78 69.75 L367.27 69.79 L368.77 69.83 L370.26 69.87 L371.75 69.91 L373.24 69.95 L374.74 69.99 L376.23 70.03 L377.72 70.07 L379.22 70.12 L380.71 70.16 L382.20 70.21 L383.70 70.25 L385.19 70.30 L386.68 70.35 L388.18 70.40 L389.67 70.44 L391.16 70.49 L392.66 70.54 L394.15 70.60 L395.65 70.65 L397.14 70.70 L398.63 70.75 L400.13 70.81 L401.62 70.86 L403.12 70.92 L404.61 70.97 L406.11 71.03 L407.60 71.09 L409.10 71.14 L410.59 71.20 L412.09 71.26 L413.58 71.32 L415.08 71.38 L416.58 71.44 L418.07 71.50 L419.57 71.57 L421.06 71.63 L422.56 71.69 L424.06 71.76 L425.55 71.82 L427.05 71.89 L428.55 71.95 L430.04 72.02 L431.54 72.08 L433.04 72.15 L434.54 72.22 L436.03 72.29 L437.53 72.36" stroke="#cc9f28"/><path d="M115.37 20.28 L116.31 21.68 L117.26 23.03 L118.25 24.31 L119.26 25.54 L120.30 26.71 L121.35 27.82 L122.44 28.88 L123.54 29.89 L124.67 30.85 L125.82 31.76 L126.99 32.63 L128.18 33.44 L129.39 34.21 L130.62 34.94 L131.87 35.62 L133.14 36.27 L134.42 36.87 L135.72 37.43 L137.04 37.96 L138.37 38.45 L139.72 38.91 L141.08 39.33 L142.46 39.73 L143.85 40.09 L145.25 40.42 L146.66 40.73 L148.09 41.01 L149.52 41.27 L150.97 41.50 L152.42 41.71 L153.88 41.90 L155.35 42.07 L156.83 42.22 L158.32 42.36 L159.81 42.48 L161.31 42.58 L162.81 42.68 L164.32 42.76 L165.83 42.83 L167.35 42.90 L168.86 42.95 L170.38 43.01 L171.91 43.05 L173.43 43.10 L174.95 43.14 L176.47 43.19 L177.99 43.23 L179.51 43.27 L181.03 43.32 L182.55 43.36 L184.07 43.41 L185.59 43.45 L187.11 43.50 L188.62 43.54 L190.14 43.59 L191.65 43.64 L193.17 43.68 L194.68 43.73 L196.20 43.78 L197.71 43.83 L199.22 43.87 L200.74 43.92 L202.25 43.97 L203.76 44.02 L205.27 44.07 L206.78 44.12 L208.29 44.17 L209.80 44.22 L211.31 44.27 L212.82 44.32 L214.32 44.37 L215.83 44.42 L217.34 44.47 L218.84 44.52 L220.35 44.57 L221.86 44.62 L223.36 44.67 L224.87 44.72 L226.37 44.77 L227.87 44.82 L229.38 44.88 L230.88 44.93 L232.38 44.98 L233.88 45.03 L235.39 45.08 L236.89 45.13 L238.39 45.19 L239.89 45.24 L241.39 45.29 L242.89 45.34 L244.39 45.40 L245.89 45.45 L247.39 45.50 L248.89 45.55 L250.39 45.61 L251.88 45.66 L253.38 45.71 L254.88 45.76 L256.38 45.81 L257.87 45.87 L259.37 45.92 L260.87 45.97 L262.36 46.02 L263.86 46.08 L265.35 46.13 L266.85 46.18 L268.34 46.23 L269.84 46.28 L271.33 46.33 L272.83 46.39 L274.32 46.44 L275.82 46.49 L277.31 46.54 L278.81 46.59 L280.30 46.64 L281.79 46.69 L283.29 46.74 L284.78 46.79 L286.27 46.84 L287.76 46.89 L289.26 46.94 L290.75 46.99 L292.24 47.04 L293.73 47.09 L295.23 47.14 L296.72 47.19 L298.21 47.24 L299.70 47.28 L301.20 47.33 L302.69 47.38 L304.18 47.43 L305.67 47.47 L307.16 47.52 L308.65 47.57 L310.15 47.61 L311.64 47.66 L313.13 47.71 L314.62 47.75 L316.11 47.80 L317.60 47.84 L319.09 47.88 L320.59 47.93 L322.08 47.97 L323.57 48.01 L325.06 48.06 L326.55 48.10 L328.04 48.14 L329.54 48.18 L331.03 48.22 L332.52 48.26 L334.01 48.30 L335.50 48.34 L337.00 48.38 L338.49 48.42 L339.98 48.46 L341.47 48.50 L342.96 48.54 L344.46 48.57 L345.95 48.61 L347.44 48.65 L348.94 48.68 L350.43 48.72 L351.92 48.75 L353.42 48.79 L354.91 48.82 L356.40 48.85 L357.90 48.88 L359.39 48.92 L360.89 48.95 L362.38 48.98 L363.88 49.01 L365.37 49.04 L366.87 49.07 L368.36 49.09 L369.86 49.12 L371.35 49.15 L372.85 49.18 L374.35 49.20 L375.84 49.23 L377.34 49.25 L378.84 49.28 L380.34 49.30 L381.83 49.32 L383.33 49.34 L384.83 49.36 L386.33 49.38 L387.83 49.40 L389.33 49.42 L390.83 49.44 L392.33 49.46 L393.83 49.48 L395.33 49.49 L396.83 49.51 L398.33 49.52 L399.83 49.54 L401.34 49.55 L402.84 49.56 L404.34 49.57 L405.85 49.58 L407.35 49.59 L408.85 49.60 L410.36 49.61 L411.86 49.62 L413.37 49.62 L414.88 49.63 L416.38 49.63 L417.89 49.64 L419.40 49.64 L420.90 49.64 L422.41 49.64 L423.92 49.65 L425.43 49.64 L426.94 49.64 L428.45 49.64 L429.96 49.64 L431.47 49.63 L432.99 49.63 L434.50 49.62 L436.01 49.62 L437.53 49.61" stroke="#2bc1c5"/></g>
<g stroke="#000" stroke-width="1.6"><line x1="76.60" y1="370.4" x2="76.60" y2="364.9"/><line x1="96.60" y1="370.4" x2="96.60" y2="367.4"/><line x1="116.60" y1="370.4" x2="116.60" y2="364.9"/><line x1="136.60" y1="370.4" x2="136.60" y2="367.4"/><line x1="156.60" y1="370.4" x2="156.60" y2="364.9"/><line x1="176.60" y1="370.4" x2="176.60" y2="367.4"/><line x1="196.60" y1="370.4" x2="196.60" y2="364.9"/><line x1="216.60" y1="370.4" x2="216.60" y2="367.4"/><line x1="236.60" y1="370.4" x2="236.60" y2="364.9"/><line x1="256.60" y1="370.4" x2="256.60" y2="367.4"/><line x1="276.60" y1="370.4" x2="276.60" y2="364.9"/><line x1="296.60" y1="370.4" x2="296.60" y2="367.4"/><line x1="316.60" y1="370.4" x2="316.60" y2="364.9"/><line x1="336.60" y1="370.4" x2="336.60" y2="367.4"/><line x1="356.60" y1="370.4" x2="356.60" y2="364.9"/><line x1="376.60" y1="370.4" x2="376.60" y2="367.4"/><line x1="396.60" y1="370.4" x2="396.60" y2="364.9"/><line x1="416.60" y1="370.4" x2="416.60" y2="367.4"/><line x1="56.8" y1="347.37" x2="62.3" y2="347.37"/><line x1="56.8" y1="324.47" x2="59.8" y2="324.47"/><line x1="56.8" y1="301.56" x2="62.3" y2="301.56"/><line x1="56.8" y1="278.66" x2="59.8" y2="278.66"/><line x1="56.8" y1="255.75" x2="62.3" y2="255.75"/><line x1="56.8" y1="232.84" x2="59.8" y2="232.84"/><line x1="56.8" y1="209.94" x2="62.3" y2="209.94"/><line x1="56.8" y1="187.03" x2="59.8" y2="187.03"/><line x1="56.8" y1="164.13" x2="62.3" y2="164.13"/><line x1="56.8" y1="141.22" x2="59.8" y2="141.22"/><line x1="56.8" y1="118.32" x2="62.3" y2="118.32"/><line x1="56.8" y1="95.42" x2="59.8" y2="95.42"/><line x1="56.8" y1="72.51" x2="62.3" y2="72.51"/><line x1="56.8" y1="49.61" x2="59.8" y2="49.61"/></g>
<rect x="56.8" y="26.7" width="379.8" height="343.7" fill="none" stroke="#000" stroke-width="2"/>
<g font-family="Liberation Serif, serif" font-weight="bold" fill="#000"><text x="76.40" y="388.8" text-anchor="middle" font-size="15">2</text><text x="116.40" y="388.8" text-anchor="middle" font-size="15">4</text><text x="156.40" y="388.8" text-anchor="middle" font-size="15">6</text><text x="196.40" y="388.8" text-anchor="middle" font-size="15">8</text><text x="236.40" y="388.8" text-anchor="middle" font-size="15">10</text><text x="276.40" y="388.8" text-anchor="middle" font-size="15">12</text><text x="316.40" y="388.8" text-anchor="middle" font-size="15">14</text><text x="356.40" y="388.8" text-anchor="middle" font-size="15">16</text><text x="396.40" y="388.8" text-anchor="middle" font-size="15">18</text><text x="436.40" y="388.8" text-anchor="middle" font-size="15">20</text><text x="50.6" y="352.37" text-anchor="end" font-size="16">20</text><text x="50.6" y="306.56" text-anchor="end" font-size="16">30</text><text x="50.6" y="260.75" text-anchor="end" font-size="16">40</text><text x="50.6" y="214.94" text-anchor="end" font-size="16">50</text><text x="50.6" y="169.13" text-anchor="end" font-size="16">60</text><text x="50.6" y="123.32" text-anchor="end" font-size="16">70</text><text x="50.6" y="77.51" text-anchor="end" font-size="16">80</text><text x="50.6" y="31.70" text-anchor="end" font-size="16">90</text></g>
<text x="248.7" y="413.5" text-anchor="middle" font-family="Liberation Serif, serif" font-size="17.7" fill="#000" stroke="#000" stroke-width="0.25">Gas production index/(×10<tspan font-size="10" dy="-6.5">3</tspan><tspan dy="6.5">m</tspan><tspan font-size="10" dy="-6.5">3</tspan><tspan dy="6.5">/d/MPa)</tspan></text>
<text transform="translate(18.2,194.5) rotate(-90)" text-anchor="middle" font-family="Liberation Serif, serif" font-size="17.7" fill="#000" stroke="#000" stroke-width="0.25">Recommended well shut-in time/min</text>
<g font-family="Liberation Serif, serif" fill="#111"><text transform="translate(499.7,19.0) scale(1,0.93)" text-anchor="middle" font-size="17.8" stroke="#111" stroke-width="0.2">Bottomhole</text><text transform="translate(501.8,39.6) scale(1,0.93)" text-anchor="middle" font-size="17.8" stroke="#111" stroke-width="0.2">pressure gap</text><line x1="455.3" y1="57.00" x2="487" y2="57.00" stroke="#111111" stroke-width="1.9"/><text x="490.3" y="61.80" font-weight="bold" font-size="14" stroke="#111" stroke-width="0.2">0.3 MPa</text><line x1="455.3" y1="74.52" x2="487" y2="74.52" stroke="#e0474c" stroke-width="1.9"/><text x="490.3" y="79.32" font-weight="bold" font-size="14" stroke="#111" stroke-width="0.2">0.5 MPa</text><line x1="455.3" y1="92.04" x2="487" y2="92.04" stroke="#2d6fd1" stroke-width="1.9"/><text x="490.3" y="96.84" font-weight="bold" font-size="14" stroke="#111" stroke-width="0.2">1 MPa</text><line x1="455.3" y1="109.56" x2="487" y2="109.56" stroke="#38a46f" stroke-width="1.9"/><text x="490.3" y="114.36" font-weight="bold" font-size="14" stroke="#111" stroke-width="0.2">2 MPa</text><line x1="455.3" y1="127.08" x2="487" y2="127.08" stroke="#b06fd9" stroke-width="1.9"/><text x="490.3" y="131.88" font-weight="bold" font-size="14" stroke="#111" stroke-width="0.2">3 MPa</text><line x1="455.3" y1="144.60" x2="487" y2="144.60" stroke="#cc9f28" stroke-width="1.9"/><text x="490.3" y="149.40" font-weight="bold" font-size="14" stroke="#111" stroke-width="0.2">4 MPa</text><line x1="455.3" y1="162.12" x2="487" y2="162.12" stroke="#2bc1c5" stroke-width="1.9"/><text x="490.3" y="166.92" font-weight="bold" font-size="14" stroke="#111" stroke-width="0.2">5 MPa</text><line x1="455.3" y1="179.64" x2="487" y2="179.64" stroke="#7a5151" stroke-width="1.9"/><text x="490.3" y="184.44" font-weight="bold" font-size="14" stroke="#111" stroke-width="0.2">6 MPa</text><line x1="455.3" y1="197.16" x2="487" y2="197.16" stroke="#8f9c2a" stroke-width="1.9"/><text x="490.3" y="201.96" font-weight="bold" font-size="14" stroke="#111" stroke-width="0.2">7 MPa</text><line x1="455.3" y1="214.68" x2="487" y2="214.68" stroke="#ea742b" stroke-width="1.9"/><text x="490.3" y="219.48" font-weight="bold" font-size="14" stroke="#111" stroke-width="0.2">8 MPa</text><line x1="455.3" y1="232.20" x2="487" y2="232.20" stroke="#6b9bd2" stroke-width="1.9"/><text x="490.3" y="237.00" font-weight="bold" font-size="14" stroke="#111" stroke-width="0.2">9 MPa</text><line x1="455.3" y1="249.72" x2="487" y2="249.72" stroke="#7cbb2f" stroke-width="1.9"/><text x="490.3" y="254.52" font-weight="bold" font-size="14" stroke="#111" stroke-width="0.2">10 MPa</text><line x1="455.3" y1="267.24" x2="487" y2="267.24" stroke="#444444" stroke-width="1.9"/><text x="490.3" y="272.04" font-weight="bold" font-size="14" stroke="#111" stroke-width="0.2">11 MPa</text><line x1="455.3" y1="284.76" x2="487" y2="284.76" stroke="#e0474c" stroke-width="1.9"/><text x="490.3" y="289.56" font-weight="bold" font-size="14" stroke="#111" stroke-width="0.2">12 MPa</text><line x1="455.3" y1="302.28" x2="487" y2="302.28" stroke="#2d6fd1" stroke-width="1.9"/><text x="490.3" y="307.08" font-weight="bold" font-size="14" stroke="#111" stroke-width="0.2">13 MPa</text><line x1="455.3" y1="319.80" x2="487" y2="319.80" stroke="#38a46f" stroke-width="1.9"/><text x="490.3" y="324.60" font-weight="bold" font-size="14" stroke="#111" stroke-width="0.2">14 MPa</text><line x1="455.3" y1="337.32" x2="487" y2="337.32" stroke="#b06fd9" stroke-width="1.9"/><text x="490.3" y="342.12" font-weight="bold" font-size="14" stroke="#111" stroke-width="0.2">15 MPa</text><line x1="455.3" y1="354.84" x2="487" y2="354.84" stroke="#cc9f28" stroke-width="1.9"/><text x="490.3" y="359.64" font-weight="bold" font-size="14" stroke="#111" stroke-width="0.2">16 MPa</text><line x1="455.3" y1="372.36" x2="487" y2="372.36" stroke="#2bc1c5" stroke-width="1.9"/><text x="490.3" y="377.16" font-weight="bold" font-size="14" stroke="#111" stroke-width="0.2">17 MPa</text></g>
</svg>
</body></html>
